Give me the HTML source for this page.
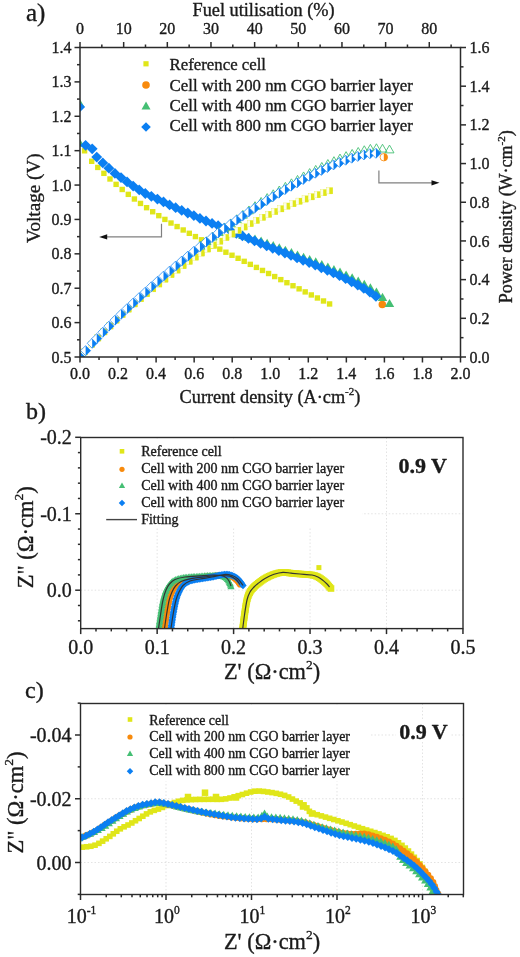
<!DOCTYPE html><html><head><meta charset="utf-8"><title>Figure</title><style>html,body{margin:0;padding:0;background:#fff}svg{display:block;filter:blur(0.35px)}</style></head><body>
<svg width="520" height="957" viewBox="0 0 520 957" font-family="'Liberation Serif', 'Times New Roman', serif" fill="#1a1a1a">
<style>text{stroke:#1a1a1a;stroke-width:0.35px;paint-order:stroke}</style>
<rect width="520" height="957" fill="#fff"/>
<clipPath id="ca"><rect x="80.0" y="47.5" width="380.5" height="309.5"/></clipPath>
<g clip-path="url(#ca)">
<rect x="81.9" y="148.1" width="5.4" height="5.4" fill="#e0e619"/><rect x="89" y="158.59" width="5.4" height="5.4" fill="#e0e619"/><rect x="95.1" y="164.73" width="5.4" height="5.4" fill="#e0e619"/><rect x="101.2" y="170.63" width="5.4" height="5.4" fill="#e0e619"/><rect x="107.3" y="176.28" width="5.4" height="5.4" fill="#e0e619"/><rect x="113.4" y="181.66" width="5.4" height="5.4" fill="#e0e619"/><rect x="119.5" y="186.78" width="5.4" height="5.4" fill="#e0e619"/><rect x="125.6" y="191.66" width="5.4" height="5.4" fill="#e0e619"/><rect x="131.7" y="196.31" width="5.4" height="5.4" fill="#e0e619"/><rect x="137.8" y="200.74" width="5.4" height="5.4" fill="#e0e619"/><rect x="143.9" y="204.98" width="5.4" height="5.4" fill="#e0e619"/><rect x="150" y="209.04" width="5.4" height="5.4" fill="#e0e619"/><rect x="156.1" y="212.95" width="5.4" height="5.4" fill="#e0e619"/><rect x="162.2" y="216.71" width="5.4" height="5.4" fill="#e0e619"/><rect x="168.3" y="220.34" width="5.4" height="5.4" fill="#e0e619"/><rect x="174.4" y="223.86" width="5.4" height="5.4" fill="#e0e619"/><rect x="180.5" y="227.28" width="5.4" height="5.4" fill="#e0e619"/><rect x="186.6" y="230.61" width="5.4" height="5.4" fill="#e0e619"/><rect x="192.7" y="233.88" width="5.4" height="5.4" fill="#e0e619"/><rect x="198.8" y="237.08" width="5.4" height="5.4" fill="#e0e619"/><rect x="204.9" y="240.24" width="5.4" height="5.4" fill="#e0e619"/><rect x="211" y="243.36" width="5.4" height="5.4" fill="#e0e619"/><rect x="217.1" y="246.44" width="5.4" height="5.4" fill="#e0e619"/><rect x="223.2" y="249.51" width="5.4" height="5.4" fill="#e0e619"/><rect x="229.3" y="252.55" width="5.4" height="5.4" fill="#e0e619"/><rect x="235.4" y="255.59" width="5.4" height="5.4" fill="#e0e619"/><rect x="241.5" y="258.63" width="5.4" height="5.4" fill="#e0e619"/><rect x="247.6" y="261.66" width="5.4" height="5.4" fill="#e0e619"/><rect x="253.7" y="264.7" width="5.4" height="5.4" fill="#e0e619"/><rect x="259.8" y="267.75" width="5.4" height="5.4" fill="#e0e619"/><rect x="265.9" y="270.8" width="5.4" height="5.4" fill="#e0e619"/><rect x="272" y="273.86" width="5.4" height="5.4" fill="#e0e619"/><rect x="278.1" y="276.92" width="5.4" height="5.4" fill="#e0e619"/><rect x="284.2" y="279.99" width="5.4" height="5.4" fill="#e0e619"/><rect x="290.3" y="283.06" width="5.4" height="5.4" fill="#e0e619"/><rect x="296.4" y="286.13" width="5.4" height="5.4" fill="#e0e619"/><rect x="302.5" y="289.2" width="5.4" height="5.4" fill="#e0e619"/><rect x="308.6" y="292.25" width="5.4" height="5.4" fill="#e0e619"/><rect x="314.7" y="295.28" width="5.4" height="5.4" fill="#e0e619"/><rect x="320.8" y="298.28" width="5.4" height="5.4" fill="#e0e619"/><rect x="326.9" y="301.26" width="5.4" height="5.4" fill="#e0e619"/>
<circle cx="382.3" cy="304.6" r="3.75" fill="#f88a0c"/>
<path d="M80 99.31L84.5 107.11L75.5 107.11Z" fill="#45bf74"/><path d="M80 139.03L84.5 146.83L75.5 146.83Z" fill="#45bf74"/><path d="M236.82 229.03L241.52 237.21L232.12 237.21Z" fill="#45bf74"/><path d="M242.89 230.93L247.59 239.1L238.19 239.1Z" fill="#45bf74"/><path d="M248.96 232.75L253.66 240.93L244.26 240.93Z" fill="#45bf74"/><path d="M255.03 234.6L259.73 242.78L250.33 242.78Z" fill="#45bf74"/><path d="M261.1 236.44L265.8 244.61L256.4 244.61Z" fill="#45bf74"/><path d="M267.17 238.77L271.87 246.95L262.47 246.95Z" fill="#45bf74"/><path d="M273.24 241.11L277.94 249.29L268.54 249.29Z" fill="#45bf74"/><path d="M279.31 243.36L284.01 251.54L274.61 251.54Z" fill="#45bf74"/><path d="M285.38 245.67L290.08 253.85L280.68 253.85Z" fill="#45bf74"/><path d="M291.45 248.06L296.15 256.24L286.75 256.24Z" fill="#45bf74"/><path d="M297.52 250.48L302.22 258.66L292.82 258.66Z" fill="#45bf74"/><path d="M303.59 252.68L308.29 260.86L298.89 260.86Z" fill="#45bf74"/><path d="M309.66 254.92L314.36 263.1L304.96 263.1Z" fill="#45bf74"/><path d="M315.73 257.34L320.43 265.52L311.03 265.52Z" fill="#45bf74"/><path d="M321.8 259.96L326.5 268.14L317.1 268.14Z" fill="#45bf74"/><path d="M327.87 262.45L332.57 270.63L323.17 270.63Z" fill="#45bf74"/><path d="M333.94 264.95L338.64 273.13L329.24 273.13Z" fill="#45bf74"/><path d="M340.01 267.57L344.71 275.75L335.31 275.75Z" fill="#45bf74"/><path d="M346.08 270.39L350.78 278.57L341.38 278.57Z" fill="#45bf74"/><path d="M352.15 273.32L356.85 281.5L347.45 281.5Z" fill="#45bf74"/><path d="M358.22 276.45L362.92 284.63L353.52 284.63Z" fill="#45bf74"/><path d="M364.29 279.7L368.99 287.88L359.59 287.88Z" fill="#45bf74"/><path d="M370.36 283.22L375.06 291.39L365.66 291.39Z" fill="#45bf74"/><path d="M376.43 287.47L381.13 295.65L371.73 295.65Z" fill="#45bf74"/><path d="M382.5 292.78L387.2 300.96L377.8 300.96Z" fill="#45bf74"/><path d="M389.5 298.91L394.2 307.09L384.8 307.09Z" fill="#45bf74"/>
<path d="M80 101.89L85.1 106.99L80 112.09L74.9 106.99Z" fill="#0b7ff2"/><path d="M85.6 139.9L91 145.3L85.6 150.7L80.2 145.3Z" fill="#0b7ff2"/><path d="M92.2 143.4L97.6 148.8L92.2 154.2L86.8 148.8Z" fill="#0b7ff2"/><path d="M96.74 151.7L102.14 157.1L96.74 162.5L91.34 157.1Z" fill="#0b7ff2"/><path d="M102.81 157.5L108.21 162.9L102.81 168.3L97.41 162.9Z" fill="#0b7ff2"/><path d="M108.88 162.8L114.28 168.2L108.88 173.6L103.48 168.2Z" fill="#0b7ff2"/><path d="M114.95 168L120.35 173.4L114.95 178.8L109.55 173.4Z" fill="#0b7ff2"/><path d="M121.02 172.19L126.42 177.59L121.02 182.99L115.62 177.59Z" fill="#0b7ff2"/><path d="M127.09 176.54L132.49 181.94L127.09 187.34L121.69 181.94Z" fill="#0b7ff2"/><path d="M133.16 180.71L138.56 186.11L133.16 191.51L127.76 186.11Z" fill="#0b7ff2"/><path d="M139.23 184.53L144.63 189.93L139.23 195.33L133.83 189.93Z" fill="#0b7ff2"/><path d="M145.3 188.1L150.7 193.5L145.3 198.9L139.9 193.5Z" fill="#0b7ff2"/><path d="M151.37 190.89L156.77 196.29L151.37 201.69L145.97 196.29Z" fill="#0b7ff2"/><path d="M157.44 193.66L162.84 199.06L157.44 204.46L152.04 199.06Z" fill="#0b7ff2"/><path d="M163.51 196.49L168.91 201.89L163.51 207.29L158.11 201.89Z" fill="#0b7ff2"/><path d="M169.58 199.51L174.98 204.91L169.58 210.31L164.18 204.91Z" fill="#0b7ff2"/><path d="M175.65 202.27L181.05 207.67L175.65 213.07L170.25 207.67Z" fill="#0b7ff2"/><path d="M181.72 205.07L187.12 210.47L181.72 215.87L176.32 210.47Z" fill="#0b7ff2"/><path d="M187.79 207.62L193.19 213.02L187.79 218.42L182.39 213.02Z" fill="#0b7ff2"/><path d="M193.86 210.2L199.26 215.6L193.86 221L188.46 215.6Z" fill="#0b7ff2"/><path d="M199.93 213.03L205.33 218.43L199.93 223.83L194.53 218.43Z" fill="#0b7ff2"/><path d="M206 215.58L211.4 220.98L206 226.38L200.6 220.98Z" fill="#0b7ff2"/><path d="M212.07 218L217.47 223.4L212.07 228.8L206.67 223.4Z" fill="#0b7ff2"/><path d="M218.14 220.3L223.54 225.7L218.14 231.1L212.74 225.7Z" fill="#0b7ff2"/><path d="M224.21 222.63L229.61 228.03L224.21 233.43L218.81 228.03Z" fill="#0b7ff2"/><path d="M230.28 225.15L235.68 230.55L230.28 235.95L224.88 230.55Z" fill="#0b7ff2"/><path d="M236.35 227.92L241.75 233.32L236.35 238.72L230.95 233.32Z" fill="#0b7ff2"/><path d="M242.42 230.49L247.82 235.89L242.42 241.29L237.02 235.89Z" fill="#0b7ff2"/><path d="M248.49 232.99L253.89 238.39L248.49 243.79L243.09 238.39Z" fill="#0b7ff2"/><path d="M254.56 235.52L259.96 240.92L254.56 246.32L249.16 240.92Z" fill="#0b7ff2"/><path d="M260.63 238.02L266.03 243.42L260.63 248.82L255.23 243.42Z" fill="#0b7ff2"/><path d="M266.7 240.52L272.1 245.92L266.7 251.32L261.3 245.92Z" fill="#0b7ff2"/><path d="M272.77 242.92L278.17 248.32L272.77 253.72L267.37 248.32Z" fill="#0b7ff2"/><path d="M278.84 245.23L284.24 250.63L278.84 256.03L273.44 250.63Z" fill="#0b7ff2"/><path d="M284.91 247.61L290.31 253.01L284.91 258.41L279.51 253.01Z" fill="#0b7ff2"/><path d="M290.98 250.07L296.38 255.47L290.98 260.87L285.58 255.47Z" fill="#0b7ff2"/><path d="M297.05 252.56L302.45 257.96L297.05 263.36L291.65 257.96Z" fill="#0b7ff2"/><path d="M303.12 254.84L308.52 260.24L303.12 265.64L297.72 260.24Z" fill="#0b7ff2"/><path d="M309.19 257.16L314.59 262.56L309.19 267.96L303.79 262.56Z" fill="#0b7ff2"/><path d="M315.26 259.66L320.66 265.06L315.26 270.46L309.86 265.06Z" fill="#0b7ff2"/><path d="M321.33 262.35L326.73 267.75L321.33 273.15L315.93 267.75Z" fill="#0b7ff2"/><path d="M327.4 264.92L332.8 270.32L327.4 275.72L322 270.32Z" fill="#0b7ff2"/><path d="M333.47 267.53L338.87 272.93L333.47 278.33L328.07 272.93Z" fill="#0b7ff2"/><path d="M339.54 270.29L344.94 275.69L339.54 281.09L334.14 275.69Z" fill="#0b7ff2"/><path d="M345.61 273.25L351.01 278.65L345.61 284.05L340.21 278.65Z" fill="#0b7ff2"/><path d="M351.68 276.33L357.08 281.73L351.68 287.13L346.28 281.73Z" fill="#0b7ff2"/><path d="M357.75 279.6L363.15 285L357.75 290.4L352.35 285Z" fill="#0b7ff2"/><path d="M363.82 282.99L369.22 288.39L363.82 293.79L358.42 288.39Z" fill="#0b7ff2"/><path d="M369.89 286.66L375.29 292.06L369.89 297.46L364.49 292.06Z" fill="#0b7ff2"/><path d="M375.96 291.07L381.36 296.47L375.96 301.87L370.56 296.47Z" fill="#0b7ff2"/>
<rect x="76.8" y="353.8" width="6.4" height="6.4" fill="#fcfdeb" stroke="#e0e619" stroke-width="0.25"/><rect x="79.7" y="353.8" width="3.5" height="6.4" fill="#e0e619"/><rect x="81.4" y="348.65" width="6.4" height="6.4" fill="#fcfdeb" stroke="#e0e619" stroke-width="0.25"/><rect x="84.3" y="348.65" width="3.5" height="6.4" fill="#e0e619"/><rect x="88.5" y="341.07" width="6.4" height="6.4" fill="#fcfdeb" stroke="#e0e619" stroke-width="0.25"/><rect x="91.4" y="341.07" width="3.5" height="6.4" fill="#e0e619"/><rect x="94.6" y="334.75" width="6.4" height="6.4" fill="#fcfdeb" stroke="#e0e619" stroke-width="0.25"/><rect x="97.5" y="334.75" width="3.5" height="6.4" fill="#e0e619"/><rect x="100.7" y="328.64" width="6.4" height="6.4" fill="#fcfdeb" stroke="#e0e619" stroke-width="0.25"/><rect x="103.6" y="328.64" width="3.5" height="6.4" fill="#e0e619"/><rect x="106.8" y="322.72" width="6.4" height="6.4" fill="#fcfdeb" stroke="#e0e619" stroke-width="0.25"/><rect x="109.7" y="322.72" width="3.5" height="6.4" fill="#e0e619"/><rect x="112.9" y="316.97" width="6.4" height="6.4" fill="#fcfdeb" stroke="#e0e619" stroke-width="0.25"/><rect x="115.8" y="316.97" width="3.5" height="6.4" fill="#e0e619"/><rect x="119" y="311.39" width="6.4" height="6.4" fill="#fcfdeb" stroke="#e0e619" stroke-width="0.25"/><rect x="121.9" y="311.39" width="3.5" height="6.4" fill="#e0e619"/><rect x="125.1" y="305.96" width="6.4" height="6.4" fill="#fcfdeb" stroke="#e0e619" stroke-width="0.25"/><rect x="128" y="305.96" width="3.5" height="6.4" fill="#e0e619"/><rect x="131.2" y="300.66" width="6.4" height="6.4" fill="#fcfdeb" stroke="#e0e619" stroke-width="0.25"/><rect x="134.1" y="300.66" width="3.5" height="6.4" fill="#e0e619"/><rect x="137.3" y="295.5" width="6.4" height="6.4" fill="#fcfdeb" stroke="#e0e619" stroke-width="0.25"/><rect x="140.2" y="295.5" width="3.5" height="6.4" fill="#e0e619"/><rect x="143.4" y="290.46" width="6.4" height="6.4" fill="#fcfdeb" stroke="#e0e619" stroke-width="0.25"/><rect x="146.3" y="290.46" width="3.5" height="6.4" fill="#e0e619"/><rect x="149.5" y="285.53" width="6.4" height="6.4" fill="#fcfdeb" stroke="#e0e619" stroke-width="0.25"/><rect x="152.4" y="285.53" width="3.5" height="6.4" fill="#e0e619"/><rect x="155.6" y="280.71" width="6.4" height="6.4" fill="#fcfdeb" stroke="#e0e619" stroke-width="0.25"/><rect x="158.5" y="280.71" width="3.5" height="6.4" fill="#e0e619"/><rect x="161.7" y="276" width="6.4" height="6.4" fill="#fcfdeb" stroke="#e0e619" stroke-width="0.25"/><rect x="164.6" y="276" width="3.5" height="6.4" fill="#e0e619"/><rect x="167.8" y="271.39" width="6.4" height="6.4" fill="#fcfdeb" stroke="#e0e619" stroke-width="0.25"/><rect x="170.7" y="271.39" width="3.5" height="6.4" fill="#e0e619"/><rect x="173.9" y="266.87" width="6.4" height="6.4" fill="#fcfdeb" stroke="#e0e619" stroke-width="0.25"/><rect x="176.8" y="266.87" width="3.5" height="6.4" fill="#e0e619"/><rect x="180" y="262.46" width="6.4" height="6.4" fill="#fcfdeb" stroke="#e0e619" stroke-width="0.25"/><rect x="182.9" y="262.46" width="3.5" height="6.4" fill="#e0e619"/><rect x="186.1" y="258.14" width="6.4" height="6.4" fill="#fcfdeb" stroke="#e0e619" stroke-width="0.25"/><rect x="189" y="258.14" width="3.5" height="6.4" fill="#e0e619"/><rect x="192.2" y="253.92" width="6.4" height="6.4" fill="#fcfdeb" stroke="#e0e619" stroke-width="0.25"/><rect x="195.1" y="253.92" width="3.5" height="6.4" fill="#e0e619"/><rect x="198.3" y="249.79" width="6.4" height="6.4" fill="#fcfdeb" stroke="#e0e619" stroke-width="0.25"/><rect x="201.2" y="249.79" width="3.5" height="6.4" fill="#e0e619"/><rect x="204.4" y="245.76" width="6.4" height="6.4" fill="#fcfdeb" stroke="#e0e619" stroke-width="0.25"/><rect x="207.3" y="245.76" width="3.5" height="6.4" fill="#e0e619"/><rect x="210.5" y="241.83" width="6.4" height="6.4" fill="#fcfdeb" stroke="#e0e619" stroke-width="0.25"/><rect x="213.4" y="241.83" width="3.5" height="6.4" fill="#e0e619"/><rect x="216.6" y="238" width="6.4" height="6.4" fill="#fcfdeb" stroke="#e0e619" stroke-width="0.25"/><rect x="219.5" y="238" width="3.5" height="6.4" fill="#e0e619"/><rect x="222.7" y="234.27" width="6.4" height="6.4" fill="#fcfdeb" stroke="#e0e619" stroke-width="0.25"/><rect x="225.6" y="234.27" width="3.5" height="6.4" fill="#e0e619"/><rect x="228.8" y="230.64" width="6.4" height="6.4" fill="#fcfdeb" stroke="#e0e619" stroke-width="0.25"/><rect x="231.7" y="230.64" width="3.5" height="6.4" fill="#e0e619"/><rect x="234.9" y="227.12" width="6.4" height="6.4" fill="#fcfdeb" stroke="#e0e619" stroke-width="0.25"/><rect x="237.8" y="227.12" width="3.5" height="6.4" fill="#e0e619"/><rect x="241" y="223.71" width="6.4" height="6.4" fill="#fcfdeb" stroke="#e0e619" stroke-width="0.25"/><rect x="243.9" y="223.71" width="3.5" height="6.4" fill="#e0e619"/><rect x="247.1" y="220.4" width="6.4" height="6.4" fill="#fcfdeb" stroke="#e0e619" stroke-width="0.25"/><rect x="250" y="220.4" width="3.5" height="6.4" fill="#e0e619"/><rect x="253.2" y="217.21" width="6.4" height="6.4" fill="#fcfdeb" stroke="#e0e619" stroke-width="0.25"/><rect x="256.1" y="217.21" width="3.5" height="6.4" fill="#e0e619"/><rect x="259.3" y="214.14" width="6.4" height="6.4" fill="#fcfdeb" stroke="#e0e619" stroke-width="0.25"/><rect x="262.2" y="214.14" width="3.5" height="6.4" fill="#e0e619"/><rect x="265.4" y="211.17" width="6.4" height="6.4" fill="#fcfdeb" stroke="#e0e619" stroke-width="0.25"/><rect x="268.3" y="211.17" width="3.5" height="6.4" fill="#e0e619"/><rect x="271.5" y="208.32" width="6.4" height="6.4" fill="#fcfdeb" stroke="#e0e619" stroke-width="0.25"/><rect x="274.4" y="208.32" width="3.5" height="6.4" fill="#e0e619"/><rect x="277.6" y="205.58" width="6.4" height="6.4" fill="#fcfdeb" stroke="#e0e619" stroke-width="0.25"/><rect x="280.5" y="205.58" width="3.5" height="6.4" fill="#e0e619"/><rect x="283.7" y="202.96" width="6.4" height="6.4" fill="#fcfdeb" stroke="#e0e619" stroke-width="0.25"/><rect x="286.6" y="202.96" width="3.5" height="6.4" fill="#e0e619"/><rect x="289.8" y="200.45" width="6.4" height="6.4" fill="#fcfdeb" stroke="#e0e619" stroke-width="0.25"/><rect x="292.7" y="200.45" width="3.5" height="6.4" fill="#e0e619"/><rect x="295.9" y="198.05" width="6.4" height="6.4" fill="#fcfdeb" stroke="#e0e619" stroke-width="0.25"/><rect x="298.8" y="198.05" width="3.5" height="6.4" fill="#e0e619"/><rect x="302" y="195.76" width="6.4" height="6.4" fill="#fcfdeb" stroke="#e0e619" stroke-width="0.25"/><rect x="304.9" y="195.76" width="3.5" height="6.4" fill="#e0e619"/><rect x="308.1" y="193.57" width="6.4" height="6.4" fill="#fcfdeb" stroke="#e0e619" stroke-width="0.25"/><rect x="311" y="193.57" width="3.5" height="6.4" fill="#e0e619"/><rect x="314.2" y="191.47" width="6.4" height="6.4" fill="#fcfdeb" stroke="#e0e619" stroke-width="0.25"/><rect x="317.1" y="191.47" width="3.5" height="6.4" fill="#e0e619"/><rect x="320.3" y="189.47" width="6.4" height="6.4" fill="#fcfdeb" stroke="#e0e619" stroke-width="0.25"/><rect x="323.2" y="189.47" width="3.5" height="6.4" fill="#e0e619"/><rect x="326.4" y="187.55" width="6.4" height="6.4" fill="#fcfdeb" stroke="#e0e619" stroke-width="0.25"/><rect x="329.3" y="187.55" width="3.5" height="6.4" fill="#e0e619"/>
<circle cx="383.8" cy="157.2" r="3.75" fill="none" stroke="#f88a0c" stroke-width="0.8"/><path d="M383.8 153.45A3.75 3.75 0 0 1 383.8 160.95Z" fill="#f88a0c"/>
<path d="M200.4 241.42L204.9 249.22L195.9 249.22Z" fill="none" stroke="#45bf74" stroke-width="0.9"/><path d="M206.47 236.79L210.97 244.59L201.97 244.59Z" fill="none" stroke="#45bf74" stroke-width="0.9"/><path d="M212.54 232.21L217.04 240.01L208.04 240.01Z" fill="none" stroke="#45bf74" stroke-width="0.9"/><path d="M218.61 227.66L223.11 235.46L214.11 235.46Z" fill="none" stroke="#45bf74" stroke-width="0.9"/><path d="M224.68 223.21L229.18 231.01L220.18 231.01Z" fill="none" stroke="#45bf74" stroke-width="0.9"/><path d="M230.75 218.93L235.25 226.73L226.25 226.73Z" fill="none" stroke="#45bf74" stroke-width="0.9"/><path d="M236.82 214.76L241.32 222.56L232.32 222.56Z" fill="none" stroke="#45bf74" stroke-width="0.9"/><path d="M242.89 210.35L247.39 218.15L238.39 218.15Z" fill="none" stroke="#45bf74" stroke-width="0.9"/><path d="M248.96 205.98L253.46 213.78L244.46 213.78Z" fill="none" stroke="#45bf74" stroke-width="0.9"/><path d="M255.03 201.7L259.53 209.5L250.53 209.5Z" fill="none" stroke="#45bf74" stroke-width="0.9"/><path d="M261.1 197.46L265.6 205.26L256.6 205.26Z" fill="none" stroke="#45bf74" stroke-width="0.9"/><path d="M267.17 193.58L271.67 201.38L262.67 201.38Z" fill="none" stroke="#45bf74" stroke-width="0.9"/><path d="M273.24 189.77L277.74 197.57L268.74 197.57Z" fill="none" stroke="#45bf74" stroke-width="0.9"/><path d="M279.31 186L283.81 193.8L274.81 193.8Z" fill="none" stroke="#45bf74" stroke-width="0.9"/><path d="M285.38 182.35L289.88 190.15L280.88 190.15Z" fill="none" stroke="#45bf74" stroke-width="0.9"/><path d="M291.45 178.83L295.95 186.63L286.95 186.63Z" fill="none" stroke="#45bf74" stroke-width="0.9"/><path d="M297.52 175.41L302.02 183.21L293.02 183.21Z" fill="none" stroke="#45bf74" stroke-width="0.9"/><path d="M303.59 171.94L308.09 179.74L299.09 179.74Z" fill="none" stroke="#45bf74" stroke-width="0.9"/><path d="M309.66 168.57L314.16 176.37L305.16 176.37Z" fill="none" stroke="#45bf74" stroke-width="0.9"/><path d="M315.73 165.41L320.23 173.21L311.23 173.21Z" fill="none" stroke="#45bf74" stroke-width="0.9"/><path d="M321.8 162.48L326.3 170.28L317.3 170.28Z" fill="none" stroke="#45bf74" stroke-width="0.9"/><path d="M327.87 159.54L332.37 167.34L323.37 167.34Z" fill="none" stroke="#45bf74" stroke-width="0.9"/><path d="M333.94 156.7L338.44 164.5L329.44 164.5Z" fill="none" stroke="#45bf74" stroke-width="0.9"/><path d="M340.01 154.05L344.51 161.85L335.51 161.85Z" fill="none" stroke="#45bf74" stroke-width="0.9"/><path d="M346.08 151.65L350.58 159.45L341.58 159.45Z" fill="none" stroke="#45bf74" stroke-width="0.9"/><path d="M352.15 149.44L356.65 157.24L347.65 157.24Z" fill="none" stroke="#45bf74" stroke-width="0.9"/><path d="M358.22 147.49L362.72 155.29L353.72 155.29Z" fill="none" stroke="#45bf74" stroke-width="0.9"/><path d="M364.29 145.76L368.79 153.56L359.79 153.56Z" fill="none" stroke="#45bf74" stroke-width="0.9"/><path d="M370.36 144.38L374.86 152.18L365.86 152.18Z" fill="none" stroke="#45bf74" stroke-width="0.9"/><path d="M376.43 143.77L380.93 151.57L371.93 151.57Z" fill="none" stroke="#45bf74" stroke-width="0.9"/><path d="M382.5 144.26L387 152.06L378 152.06Z" fill="none" stroke="#45bf74" stroke-width="0.9"/><path d="M389.5 145.07L394 152.87L385 152.87Z" fill="none" stroke="#45bf74" stroke-width="0.9"/>
<path d="M80 352L85 357L80 362L75 357Z" fill="#fff" stroke="#0b7ff2" stroke-width="0.7"/><path d="M80 352L85 357L80 362Z" fill="#0b7ff2"/><path d="M85.6 345.64L90.6 350.64L85.6 355.64L80.6 350.64Z" fill="#fff" stroke="#0b7ff2" stroke-width="0.7"/><path d="M85.6 345.64L90.6 350.64L85.6 355.64Z" fill="#0b7ff2"/><path d="M92.2 338.27L97.2 343.27L92.2 348.27L87.2 343.27Z" fill="#fff" stroke="#0b7ff2" stroke-width="0.7"/><path d="M92.2 338.27L97.2 343.27L92.2 348.27Z" fill="#0b7ff2"/><path d="M96.74 333.57L101.74 338.57L96.74 343.57L91.74 338.57Z" fill="#fff" stroke="#0b7ff2" stroke-width="0.7"/><path d="M96.74 333.57L101.74 338.57L96.74 343.57Z" fill="#0b7ff2"/><path d="M102.81 327.28L107.81 332.28L102.81 337.28L97.81 332.28Z" fill="#fff" stroke="#0b7ff2" stroke-width="0.7"/><path d="M102.81 327.28L107.81 332.28L102.81 337.28Z" fill="#0b7ff2"/><path d="M108.88 321.16L113.88 326.16L108.88 331.16L103.88 326.16Z" fill="#fff" stroke="#0b7ff2" stroke-width="0.7"/><path d="M108.88 321.16L113.88 326.16L108.88 331.16Z" fill="#0b7ff2"/><path d="M114.95 315.21L119.95 320.21L114.95 325.21L109.95 320.21Z" fill="#fff" stroke="#0b7ff2" stroke-width="0.7"/><path d="M114.95 315.21L119.95 320.21L114.95 325.21Z" fill="#0b7ff2"/><path d="M121.02 309.33L126.02 314.33L121.02 319.33L116.02 314.33Z" fill="#fff" stroke="#0b7ff2" stroke-width="0.7"/><path d="M121.02 309.33L126.02 314.33L121.02 319.33Z" fill="#0b7ff2"/><path d="M127.09 303.62L132.09 308.62L127.09 313.62L122.09 308.62Z" fill="#fff" stroke="#0b7ff2" stroke-width="0.7"/><path d="M127.09 303.62L132.09 308.62L127.09 313.62Z" fill="#0b7ff2"/><path d="M133.16 298.04L138.16 303.04L133.16 308.04L128.16 303.04Z" fill="#fff" stroke="#0b7ff2" stroke-width="0.7"/><path d="M133.16 298.04L138.16 303.04L133.16 308.04Z" fill="#0b7ff2"/><path d="M139.23 292.55L144.23 297.55L139.23 302.55L134.23 297.55Z" fill="#fff" stroke="#0b7ff2" stroke-width="0.7"/><path d="M139.23 292.55L144.23 297.55L139.23 302.55Z" fill="#0b7ff2"/><path d="M145.3 287.15L150.3 292.15L145.3 297.15L140.3 292.15Z" fill="#fff" stroke="#0b7ff2" stroke-width="0.7"/><path d="M145.3 287.15L150.3 292.15L145.3 297.15Z" fill="#0b7ff2"/><path d="M151.37 281.71L156.37 286.71L151.37 291.71L146.37 286.71Z" fill="#fff" stroke="#0b7ff2" stroke-width="0.7"/><path d="M151.37 281.71L156.37 286.71L151.37 291.71Z" fill="#0b7ff2"/><path d="M157.44 276.37L162.44 281.37L157.44 286.37L152.44 281.37Z" fill="#fff" stroke="#0b7ff2" stroke-width="0.7"/><path d="M157.44 276.37L162.44 281.37L157.44 286.37Z" fill="#0b7ff2"/><path d="M163.51 271.14L168.51 276.14L163.51 281.14L158.51 276.14Z" fill="#fff" stroke="#0b7ff2" stroke-width="0.7"/><path d="M163.51 271.14L168.51 276.14L163.51 281.14Z" fill="#0b7ff2"/><path d="M169.58 266.07L174.58 271.07L169.58 276.07L164.58 271.07Z" fill="#fff" stroke="#0b7ff2" stroke-width="0.7"/><path d="M169.58 266.07L174.58 271.07L169.58 276.07Z" fill="#0b7ff2"/><path d="M175.65 261.02L180.65 266.02L175.65 271.02L170.65 266.02Z" fill="#fff" stroke="#0b7ff2" stroke-width="0.7"/><path d="M175.65 261.02L180.65 266.02L175.65 271.02Z" fill="#0b7ff2"/><path d="M181.72 256.09L186.72 261.09L181.72 266.09L176.72 261.09Z" fill="#fff" stroke="#0b7ff2" stroke-width="0.7"/><path d="M181.72 256.09L186.72 261.09L181.72 266.09Z" fill="#0b7ff2"/><path d="M187.79 251.18L192.79 256.18L187.79 261.18L182.79 256.18Z" fill="#fff" stroke="#0b7ff2" stroke-width="0.7"/><path d="M187.79 251.18L192.79 256.18L187.79 261.18Z" fill="#0b7ff2"/><path d="M193.86 246.37L198.86 251.37L193.86 256.37L188.86 251.37Z" fill="#fff" stroke="#0b7ff2" stroke-width="0.7"/><path d="M193.86 246.37L198.86 251.37L193.86 256.37Z" fill="#0b7ff2"/><path d="M199.93 241.75L204.93 246.75L199.93 251.75L194.93 246.75Z" fill="#fff" stroke="#0b7ff2" stroke-width="0.7"/><path d="M199.93 241.75L204.93 246.75L199.93 251.75Z" fill="#0b7ff2"/><path d="M206 237.12L211 242.12L206 247.12L201 242.12Z" fill="#fff" stroke="#0b7ff2" stroke-width="0.7"/><path d="M206 237.12L211 242.12L206 247.12Z" fill="#0b7ff2"/><path d="M212.07 232.53L217.07 237.53L212.07 242.53L207.07 237.53Z" fill="#fff" stroke="#0b7ff2" stroke-width="0.7"/><path d="M212.07 232.53L217.07 237.53L212.07 242.53Z" fill="#0b7ff2"/><path d="M218.14 227.98L223.14 232.98L218.14 237.98L213.14 232.98Z" fill="#fff" stroke="#0b7ff2" stroke-width="0.7"/><path d="M218.14 227.98L223.14 232.98L218.14 237.98Z" fill="#0b7ff2"/><path d="M224.21 223.53L229.21 228.53L224.21 233.53L219.21 228.53Z" fill="#fff" stroke="#0b7ff2" stroke-width="0.7"/><path d="M224.21 223.53L229.21 228.53L224.21 233.53Z" fill="#0b7ff2"/><path d="M230.28 219.24L235.28 224.24L230.28 229.24L225.28 224.24Z" fill="#fff" stroke="#0b7ff2" stroke-width="0.7"/><path d="M230.28 219.24L235.28 224.24L230.28 229.24Z" fill="#0b7ff2"/><path d="M236.35 215.16L241.35 220.16L236.35 225.16L231.35 220.16Z" fill="#fff" stroke="#0b7ff2" stroke-width="0.7"/><path d="M236.35 215.16L241.35 220.16L236.35 225.16Z" fill="#0b7ff2"/><path d="M242.42 211.09L247.42 216.09L242.42 221.09L237.42 216.09Z" fill="#fff" stroke="#0b7ff2" stroke-width="0.7"/><path d="M242.42 211.09L247.42 216.09L242.42 221.09Z" fill="#0b7ff2"/><path d="M248.49 207.06L253.49 212.06L248.49 217.06L243.49 212.06Z" fill="#fff" stroke="#0b7ff2" stroke-width="0.7"/><path d="M248.49 207.06L253.49 212.06L248.49 217.06Z" fill="#0b7ff2"/><path d="M254.56 203.15L259.56 208.15L254.56 213.15L249.56 208.15Z" fill="#fff" stroke="#0b7ff2" stroke-width="0.7"/><path d="M254.56 203.15L259.56 208.15L254.56 213.15Z" fill="#0b7ff2"/><path d="M260.63 199.32L265.63 204.32L260.63 209.32L255.63 204.32Z" fill="#fff" stroke="#0b7ff2" stroke-width="0.7"/><path d="M260.63 199.32L265.63 204.32L260.63 209.32Z" fill="#0b7ff2"/><path d="M266.7 195.56L271.7 200.56L266.7 205.56L261.7 200.56Z" fill="#fff" stroke="#0b7ff2" stroke-width="0.7"/><path d="M266.7 195.56L271.7 200.56L266.7 205.56Z" fill="#0b7ff2"/><path d="M272.77 191.85L277.77 196.85L272.77 201.85L267.77 196.85Z" fill="#fff" stroke="#0b7ff2" stroke-width="0.7"/><path d="M272.77 191.85L277.77 196.85L272.77 201.85Z" fill="#0b7ff2"/><path d="M278.84 188.17L283.84 193.17L278.84 198.17L273.84 193.17Z" fill="#fff" stroke="#0b7ff2" stroke-width="0.7"/><path d="M278.84 188.17L283.84 193.17L278.84 198.17Z" fill="#0b7ff2"/><path d="M284.91 184.61L289.91 189.61L284.91 194.61L279.91 189.61Z" fill="#fff" stroke="#0b7ff2" stroke-width="0.7"/><path d="M284.91 184.61L289.91 189.61L284.91 194.61Z" fill="#0b7ff2"/><path d="M290.98 181.19L295.98 186.19L290.98 191.19L285.98 186.19Z" fill="#fff" stroke="#0b7ff2" stroke-width="0.7"/><path d="M290.98 181.19L295.98 186.19L290.98 191.19Z" fill="#0b7ff2"/><path d="M297.05 177.87L302.05 182.87L297.05 187.87L292.05 182.87Z" fill="#fff" stroke="#0b7ff2" stroke-width="0.7"/><path d="M297.05 177.87L302.05 182.87L297.05 187.87Z" fill="#0b7ff2"/><path d="M303.12 174.51L308.12 179.51L303.12 184.51L298.12 179.51Z" fill="#fff" stroke="#0b7ff2" stroke-width="0.7"/><path d="M303.12 174.51L308.12 179.51L303.12 184.51Z" fill="#0b7ff2"/><path d="M309.19 171.25L314.19 176.25L309.19 181.25L304.19 176.25Z" fill="#fff" stroke="#0b7ff2" stroke-width="0.7"/><path d="M309.19 171.25L314.19 176.25L309.19 181.25Z" fill="#0b7ff2"/><path d="M315.26 168.2L320.26 173.2L315.26 178.2L310.26 173.2Z" fill="#fff" stroke="#0b7ff2" stroke-width="0.7"/><path d="M315.26 168.2L320.26 173.2L315.26 178.2Z" fill="#0b7ff2"/><path d="M321.33 165.39L326.33 170.39L321.33 175.39L316.33 170.39Z" fill="#fff" stroke="#0b7ff2" stroke-width="0.7"/><path d="M321.33 165.39L326.33 170.39L321.33 175.39Z" fill="#0b7ff2"/><path d="M327.4 162.57L332.4 167.57L327.4 172.57L322.4 167.57Z" fill="#fff" stroke="#0b7ff2" stroke-width="0.7"/><path d="M327.4 162.57L332.4 167.57L327.4 172.57Z" fill="#0b7ff2"/><path d="M333.47 159.89L338.47 164.89L333.47 169.89L328.47 164.89Z" fill="#fff" stroke="#0b7ff2" stroke-width="0.7"/><path d="M333.47 159.89L338.47 164.89L333.47 169.89Z" fill="#0b7ff2"/><path d="M339.54 157.41L344.54 162.41L339.54 167.41L334.54 162.41Z" fill="#fff" stroke="#0b7ff2" stroke-width="0.7"/><path d="M339.54 157.41L344.54 162.41L339.54 167.41Z" fill="#0b7ff2"/><path d="M345.61 155.19L350.61 160.19L345.61 165.19L340.61 160.19Z" fill="#fff" stroke="#0b7ff2" stroke-width="0.7"/><path d="M345.61 155.19L350.61 160.19L345.61 165.19Z" fill="#0b7ff2"/><path d="M351.68 153.16L356.68 158.16L351.68 163.16L346.68 158.16Z" fill="#fff" stroke="#0b7ff2" stroke-width="0.7"/><path d="M351.68 153.16L356.68 158.16L351.68 163.16Z" fill="#0b7ff2"/><path d="M357.75 151.4L362.75 156.4L357.75 161.4L352.75 156.4Z" fill="#fff" stroke="#0b7ff2" stroke-width="0.7"/><path d="M357.75 151.4L362.75 156.4L357.75 161.4Z" fill="#0b7ff2"/><path d="M363.82 149.88L368.82 154.88L363.82 159.88L358.82 154.88Z" fill="#fff" stroke="#0b7ff2" stroke-width="0.7"/><path d="M363.82 149.88L368.82 154.88L363.82 159.88Z" fill="#0b7ff2"/><path d="M369.89 148.7L374.89 153.7L369.89 158.7L364.89 153.7Z" fill="#fff" stroke="#0b7ff2" stroke-width="0.7"/><path d="M369.89 148.7L374.89 153.7L369.89 158.7Z" fill="#0b7ff2"/><path d="M375.96 148.3L380.96 153.3L375.96 158.3L370.96 153.3Z" fill="#fff" stroke="#0b7ff2" stroke-width="0.7"/><path d="M375.96 148.3L380.96 153.3L375.96 158.3Z" fill="#0b7ff2"/>
</g>
<rect x="80.0" y="47.5" width="380.5" height="309.5" fill="none" stroke="#2b2b2b" stroke-width="1.5"/>
<line x1="74.5" y1="357" x2="80" y2="357" stroke="#2b2b2b" stroke-width="1.5"/>
<text x="71.5" y="362.6" font-size="16" text-anchor="end">0.5</text>
<line x1="77" y1="339.81" x2="80" y2="339.81" stroke="#2b2b2b" stroke-width="1.5"/>
<line x1="74.5" y1="322.61" x2="80" y2="322.61" stroke="#2b2b2b" stroke-width="1.5"/>
<text x="71.5" y="328.21" font-size="16" text-anchor="end">0.6</text>
<line x1="77" y1="305.42" x2="80" y2="305.42" stroke="#2b2b2b" stroke-width="1.5"/>
<line x1="74.5" y1="288.22" x2="80" y2="288.22" stroke="#2b2b2b" stroke-width="1.5"/>
<text x="71.5" y="293.82" font-size="16" text-anchor="end">0.7</text>
<line x1="77" y1="271.03" x2="80" y2="271.03" stroke="#2b2b2b" stroke-width="1.5"/>
<line x1="74.5" y1="253.83" x2="80" y2="253.83" stroke="#2b2b2b" stroke-width="1.5"/>
<text x="71.5" y="259.43" font-size="16" text-anchor="end">0.8</text>
<line x1="77" y1="236.64" x2="80" y2="236.64" stroke="#2b2b2b" stroke-width="1.5"/>
<line x1="74.5" y1="219.44" x2="80" y2="219.44" stroke="#2b2b2b" stroke-width="1.5"/>
<text x="71.5" y="225.04" font-size="16" text-anchor="end">0.9</text>
<line x1="77" y1="202.25" x2="80" y2="202.25" stroke="#2b2b2b" stroke-width="1.5"/>
<line x1="74.5" y1="185.06" x2="80" y2="185.06" stroke="#2b2b2b" stroke-width="1.5"/>
<text x="71.5" y="190.66" font-size="16" text-anchor="end">1.0</text>
<line x1="77" y1="167.86" x2="80" y2="167.86" stroke="#2b2b2b" stroke-width="1.5"/>
<line x1="74.5" y1="150.67" x2="80" y2="150.67" stroke="#2b2b2b" stroke-width="1.5"/>
<text x="71.5" y="156.27" font-size="16" text-anchor="end">1.1</text>
<line x1="77" y1="133.47" x2="80" y2="133.47" stroke="#2b2b2b" stroke-width="1.5"/>
<line x1="74.5" y1="116.28" x2="80" y2="116.28" stroke="#2b2b2b" stroke-width="1.5"/>
<text x="71.5" y="121.88" font-size="16" text-anchor="end">1.2</text>
<line x1="77" y1="99.08" x2="80" y2="99.08" stroke="#2b2b2b" stroke-width="1.5"/>
<line x1="74.5" y1="81.89" x2="80" y2="81.89" stroke="#2b2b2b" stroke-width="1.5"/>
<text x="71.5" y="87.49" font-size="16" text-anchor="end">1.3</text>
<line x1="77" y1="64.69" x2="80" y2="64.69" stroke="#2b2b2b" stroke-width="1.5"/>
<line x1="74.5" y1="47.5" x2="80" y2="47.5" stroke="#2b2b2b" stroke-width="1.5"/>
<text x="71.5" y="53.1" font-size="16" text-anchor="end">1.4</text>
<line x1="460.5" y1="357" x2="466" y2="357" stroke="#2b2b2b" stroke-width="1.5"/>
<text x="469.5" y="362.6" font-size="16" text-anchor="start">0.0</text>
<line x1="460.5" y1="337.66" x2="463.5" y2="337.66" stroke="#2b2b2b" stroke-width="1.5"/>
<line x1="460.5" y1="318.31" x2="466" y2="318.31" stroke="#2b2b2b" stroke-width="1.5"/>
<text x="469.5" y="323.91" font-size="16" text-anchor="start">0.2</text>
<line x1="460.5" y1="298.97" x2="463.5" y2="298.97" stroke="#2b2b2b" stroke-width="1.5"/>
<line x1="460.5" y1="279.62" x2="466" y2="279.62" stroke="#2b2b2b" stroke-width="1.5"/>
<text x="469.5" y="285.23" font-size="16" text-anchor="start">0.4</text>
<line x1="460.5" y1="260.28" x2="463.5" y2="260.28" stroke="#2b2b2b" stroke-width="1.5"/>
<line x1="460.5" y1="240.94" x2="466" y2="240.94" stroke="#2b2b2b" stroke-width="1.5"/>
<text x="469.5" y="246.54" font-size="16" text-anchor="start">0.6</text>
<line x1="460.5" y1="221.59" x2="463.5" y2="221.59" stroke="#2b2b2b" stroke-width="1.5"/>
<line x1="460.5" y1="202.25" x2="466" y2="202.25" stroke="#2b2b2b" stroke-width="1.5"/>
<text x="469.5" y="207.85" font-size="16" text-anchor="start">0.8</text>
<line x1="460.5" y1="182.91" x2="463.5" y2="182.91" stroke="#2b2b2b" stroke-width="1.5"/>
<line x1="460.5" y1="163.56" x2="466" y2="163.56" stroke="#2b2b2b" stroke-width="1.5"/>
<text x="469.5" y="169.16" font-size="16" text-anchor="start">1.0</text>
<line x1="460.5" y1="144.22" x2="463.5" y2="144.22" stroke="#2b2b2b" stroke-width="1.5"/>
<line x1="460.5" y1="124.88" x2="466" y2="124.88" stroke="#2b2b2b" stroke-width="1.5"/>
<text x="469.5" y="130.47" font-size="16" text-anchor="start">1.2</text>
<line x1="460.5" y1="105.53" x2="463.5" y2="105.53" stroke="#2b2b2b" stroke-width="1.5"/>
<line x1="460.5" y1="86.19" x2="466" y2="86.19" stroke="#2b2b2b" stroke-width="1.5"/>
<text x="469.5" y="91.79" font-size="16" text-anchor="start">1.4</text>
<line x1="460.5" y1="66.84" x2="463.5" y2="66.84" stroke="#2b2b2b" stroke-width="1.5"/>
<line x1="460.5" y1="47.5" x2="466" y2="47.5" stroke="#2b2b2b" stroke-width="1.5"/>
<text x="469.5" y="53.1" font-size="16" text-anchor="start">1.6</text>
<line x1="80" y1="357" x2="80" y2="362.5" stroke="#2b2b2b" stroke-width="1.5"/>
<text x="80" y="379.2" font-size="16" text-anchor="middle">0.0</text>
<line x1="99.03" y1="357" x2="99.03" y2="360" stroke="#2b2b2b" stroke-width="1.5"/>
<line x1="118.05" y1="357" x2="118.05" y2="362.5" stroke="#2b2b2b" stroke-width="1.5"/>
<text x="118.05" y="379.2" font-size="16" text-anchor="middle">0.2</text>
<line x1="137.08" y1="357" x2="137.08" y2="360" stroke="#2b2b2b" stroke-width="1.5"/>
<line x1="156.1" y1="357" x2="156.1" y2="362.5" stroke="#2b2b2b" stroke-width="1.5"/>
<text x="156.1" y="379.2" font-size="16" text-anchor="middle">0.4</text>
<line x1="175.12" y1="357" x2="175.12" y2="360" stroke="#2b2b2b" stroke-width="1.5"/>
<line x1="194.15" y1="357" x2="194.15" y2="362.5" stroke="#2b2b2b" stroke-width="1.5"/>
<text x="194.15" y="379.2" font-size="16" text-anchor="middle">0.6</text>
<line x1="213.18" y1="357" x2="213.18" y2="360" stroke="#2b2b2b" stroke-width="1.5"/>
<line x1="232.2" y1="357" x2="232.2" y2="362.5" stroke="#2b2b2b" stroke-width="1.5"/>
<text x="232.2" y="379.2" font-size="16" text-anchor="middle">0.8</text>
<line x1="251.22" y1="357" x2="251.22" y2="360" stroke="#2b2b2b" stroke-width="1.5"/>
<line x1="270.25" y1="357" x2="270.25" y2="362.5" stroke="#2b2b2b" stroke-width="1.5"/>
<text x="270.25" y="379.2" font-size="16" text-anchor="middle">1.0</text>
<line x1="289.27" y1="357" x2="289.27" y2="360" stroke="#2b2b2b" stroke-width="1.5"/>
<line x1="308.3" y1="357" x2="308.3" y2="362.5" stroke="#2b2b2b" stroke-width="1.5"/>
<text x="308.3" y="379.2" font-size="16" text-anchor="middle">1.2</text>
<line x1="327.33" y1="357" x2="327.33" y2="360" stroke="#2b2b2b" stroke-width="1.5"/>
<line x1="346.35" y1="357" x2="346.35" y2="362.5" stroke="#2b2b2b" stroke-width="1.5"/>
<text x="346.35" y="379.2" font-size="16" text-anchor="middle">1.4</text>
<line x1="365.38" y1="357" x2="365.38" y2="360" stroke="#2b2b2b" stroke-width="1.5"/>
<line x1="384.4" y1="357" x2="384.4" y2="362.5" stroke="#2b2b2b" stroke-width="1.5"/>
<text x="384.4" y="379.2" font-size="16" text-anchor="middle">1.6</text>
<line x1="403.43" y1="357" x2="403.43" y2="360" stroke="#2b2b2b" stroke-width="1.5"/>
<line x1="422.45" y1="357" x2="422.45" y2="362.5" stroke="#2b2b2b" stroke-width="1.5"/>
<text x="422.45" y="379.2" font-size="16" text-anchor="middle">1.8</text>
<line x1="441.48" y1="357" x2="441.48" y2="360" stroke="#2b2b2b" stroke-width="1.5"/>
<line x1="460.5" y1="357" x2="460.5" y2="362.5" stroke="#2b2b2b" stroke-width="1.5"/>
<text x="460.5" y="379.2" font-size="16" text-anchor="middle">2.0</text>
<line x1="80" y1="42" x2="80" y2="47.5" stroke="#2b2b2b" stroke-width="1.5"/>
<text x="80" y="34.4" font-size="16" text-anchor="middle">0</text>
<line x1="101.83" y1="44.5" x2="101.83" y2="47.5" stroke="#2b2b2b" stroke-width="1.5"/>
<line x1="123.66" y1="42" x2="123.66" y2="47.5" stroke="#2b2b2b" stroke-width="1.5"/>
<text x="123.66" y="34.4" font-size="16" text-anchor="middle">10</text>
<line x1="145.49" y1="44.5" x2="145.49" y2="47.5" stroke="#2b2b2b" stroke-width="1.5"/>
<line x1="167.32" y1="42" x2="167.32" y2="47.5" stroke="#2b2b2b" stroke-width="1.5"/>
<text x="167.32" y="34.4" font-size="16" text-anchor="middle">20</text>
<line x1="189.15" y1="44.5" x2="189.15" y2="47.5" stroke="#2b2b2b" stroke-width="1.5"/>
<line x1="210.98" y1="42" x2="210.98" y2="47.5" stroke="#2b2b2b" stroke-width="1.5"/>
<text x="210.98" y="34.4" font-size="16" text-anchor="middle">30</text>
<line x1="232.81" y1="44.5" x2="232.81" y2="47.5" stroke="#2b2b2b" stroke-width="1.5"/>
<line x1="254.64" y1="42" x2="254.64" y2="47.5" stroke="#2b2b2b" stroke-width="1.5"/>
<text x="254.64" y="34.4" font-size="16" text-anchor="middle">40</text>
<line x1="276.47" y1="44.5" x2="276.47" y2="47.5" stroke="#2b2b2b" stroke-width="1.5"/>
<line x1="298.3" y1="42" x2="298.3" y2="47.5" stroke="#2b2b2b" stroke-width="1.5"/>
<text x="298.3" y="34.4" font-size="16" text-anchor="middle">50</text>
<line x1="320.13" y1="44.5" x2="320.13" y2="47.5" stroke="#2b2b2b" stroke-width="1.5"/>
<line x1="341.96" y1="42" x2="341.96" y2="47.5" stroke="#2b2b2b" stroke-width="1.5"/>
<text x="341.96" y="34.4" font-size="16" text-anchor="middle">60</text>
<line x1="363.79" y1="44.5" x2="363.79" y2="47.5" stroke="#2b2b2b" stroke-width="1.5"/>
<line x1="385.62" y1="42" x2="385.62" y2="47.5" stroke="#2b2b2b" stroke-width="1.5"/>
<text x="385.62" y="34.4" font-size="16" text-anchor="middle">70</text>
<line x1="407.45" y1="44.5" x2="407.45" y2="47.5" stroke="#2b2b2b" stroke-width="1.5"/>
<line x1="429.28" y1="42" x2="429.28" y2="47.5" stroke="#2b2b2b" stroke-width="1.5"/>
<text x="429.28" y="34.4" font-size="16" text-anchor="middle">80</text>
<line x1="451.11" y1="44.5" x2="451.11" y2="47.5" stroke="#2b2b2b" stroke-width="1.5"/>
<text x="192.5" y="15.8" font-size="18.3" text-anchor="start">Fuel utilisation (%)</text>
<text x="26" y="20.7" font-size="25" text-anchor="start">a)</text>
<text x="0" y="0" font-size="19.2" text-anchor="middle" transform="translate(39.9 198.1) rotate(-90)">Voltage (V)</text>
<text x="0" y="0" font-size="18" text-anchor="middle" transform="translate(512.3 216.8) rotate(-90)">Power density (W·cm<tspan font-size="11" dy="-7.8">-2</tspan><tspan dy="7.8">)</tspan></text>
<text x="179.6" y="402.8" font-size="18.3">Current density (A·cm<tspan font-size="11" dy="-7.8">-2</tspan><tspan dy="7.8">)</tspan></text>
<rect x="143.4" y="61.2" width="5.2" height="5.2" fill="#e0e619"/>
<circle cx="146" cy="85" r="3.8" fill="#f88a0c"/>
<path d="M146 101.6L150.5 109.4L141.5 109.4Z" fill="#45bf74"/>
<path d="M146 122.2L150.8 127L146 131.8L141.2 127Z" fill="#0b7ff2"/>
<text x="169.6" y="70" font-size="16.8" text-anchor="start">Reference cell</text>
<text x="169.6" y="90.6" font-size="16.8" text-anchor="start">Cell with 200 nm CGO barrier layer</text>
<text x="169.6" y="110.9" font-size="16.8" text-anchor="start">Cell with 400 nm CGO barrier layer</text>
<text x="169.6" y="131.3" font-size="16.8" text-anchor="start">Cell with 800 nm CGO barrier layer</text>
<path d="M378.9 170.5V182.8H433" fill="none" stroke="#808080" stroke-width="1.2"/>
<path d="M439.5 182.8L431.5 180.2L431.5 185.4Z" fill="#111"/>
<path d="M161.5 223.8V236.9H106" fill="none" stroke="#808080" stroke-width="1.2"/>
<path d="M99.2 236.9L107.2 234.3L107.2 239.5Z" fill="#111"/>
<line x1="80.7" y1="513.75" x2="463" y2="513.75" stroke="#dcdcdc" stroke-width="0.8" stroke-dasharray="1.5 2"/>
<line x1="80.7" y1="590.2" x2="463" y2="590.2" stroke="#dcdcdc" stroke-width="0.8" stroke-dasharray="1.5 2"/>
<line x1="157.15" y1="437.5" x2="157.15" y2="628.6" stroke="#dcdcdc" stroke-width="0.8" stroke-dasharray="1.5 2"/>
<line x1="233.6" y1="437.5" x2="233.6" y2="628.6" stroke="#dcdcdc" stroke-width="0.8" stroke-dasharray="1.5 2"/>
<line x1="310.05" y1="437.5" x2="310.05" y2="628.6" stroke="#dcdcdc" stroke-width="0.8" stroke-dasharray="1.5 2"/>
<line x1="386.5" y1="437.5" x2="386.5" y2="628.6" stroke="#dcdcdc" stroke-width="0.8" stroke-dasharray="1.5 2"/>
<rect x="81.5" y="438.5" width="280.5" height="89" fill="#fff"/>
<clipPath id="cb"><rect x="80.7" y="437.5" width="382.3" height="191.10000000000002"/></clipPath>
<g clip-path="url(#cb)">
<rect x="239" y="628.7" width="6.6" height="6.6" fill="#e0e619"/><rect x="239.2" y="627.1" width="6.6" height="6.6" fill="#e0e619"/><rect x="239.4" y="625.51" width="6.6" height="6.6" fill="#e0e619"/><rect x="239.6" y="623.91" width="6.6" height="6.6" fill="#e0e619"/><rect x="239.8" y="622.32" width="6.6" height="6.6" fill="#e0e619"/><rect x="240" y="620.72" width="6.6" height="6.6" fill="#e0e619"/><rect x="240.2" y="619.13" width="6.6" height="6.6" fill="#e0e619"/><rect x="240.4" y="617.53" width="6.6" height="6.6" fill="#e0e619"/><rect x="240.61" y="615.94" width="6.6" height="6.6" fill="#e0e619"/><rect x="240.83" y="614.35" width="6.6" height="6.6" fill="#e0e619"/><rect x="241.05" y="612.75" width="6.6" height="6.6" fill="#e0e619"/><rect x="241.28" y="611.16" width="6.6" height="6.6" fill="#e0e619"/><rect x="241.51" y="609.57" width="6.6" height="6.6" fill="#e0e619"/><rect x="241.74" y="607.98" width="6.6" height="6.6" fill="#e0e619"/><rect x="241.98" y="606.39" width="6.6" height="6.6" fill="#e0e619"/><rect x="242.22" y="604.8" width="6.6" height="6.6" fill="#e0e619"/><rect x="242.47" y="603.21" width="6.6" height="6.6" fill="#e0e619"/><rect x="242.73" y="601.62" width="6.6" height="6.6" fill="#e0e619"/><rect x="243.01" y="600.04" width="6.6" height="6.6" fill="#e0e619"/><rect x="243.31" y="598.46" width="6.6" height="6.6" fill="#e0e619"/><rect x="243.66" y="596.89" width="6.6" height="6.6" fill="#e0e619"/><rect x="244.05" y="595.33" width="6.6" height="6.6" fill="#e0e619"/><rect x="244.5" y="593.79" width="6.6" height="6.6" fill="#e0e619"/><rect x="245.03" y="592.27" width="6.6" height="6.6" fill="#e0e619"/><rect x="245.65" y="590.79" width="6.6" height="6.6" fill="#e0e619"/><rect x="246.36" y="589.34" width="6.6" height="6.6" fill="#e0e619"/><rect x="247.14" y="587.94" width="6.6" height="6.6" fill="#e0e619"/><rect x="248.06" y="586.62" width="6.6" height="6.6" fill="#e0e619"/><rect x="249.1" y="585.4" width="6.6" height="6.6" fill="#e0e619"/><rect x="250.2" y="584.22" width="6.6" height="6.6" fill="#e0e619"/><rect x="251.31" y="583.06" width="6.6" height="6.6" fill="#e0e619"/><rect x="252.49" y="581.97" width="6.6" height="6.6" fill="#e0e619"/><rect x="253.74" y="580.95" width="6.6" height="6.6" fill="#e0e619"/><rect x="255" y="579.96" width="6.6" height="6.6" fill="#e0e619"/><rect x="256.27" y="578.97" width="6.6" height="6.6" fill="#e0e619"/><rect x="257.55" y="578" width="6.6" height="6.6" fill="#e0e619"/><rect x="258.85" y="577.05" width="6.6" height="6.6" fill="#e0e619"/><rect x="260.17" y="576.14" width="6.6" height="6.6" fill="#e0e619"/><rect x="261.54" y="575.29" width="6.6" height="6.6" fill="#e0e619"/><rect x="262.94" y="574.51" width="6.6" height="6.6" fill="#e0e619"/><rect x="264.36" y="573.76" width="6.6" height="6.6" fill="#e0e619"/><rect x="265.8" y="573.04" width="6.6" height="6.6" fill="#e0e619"/><rect x="267.26" y="572.37" width="6.6" height="6.6" fill="#e0e619"/><rect x="268.74" y="571.74" width="6.6" height="6.6" fill="#e0e619"/><rect x="270.24" y="571.16" width="6.6" height="6.6" fill="#e0e619"/><rect x="271.77" y="570.65" width="6.6" height="6.6" fill="#e0e619"/><rect x="273.31" y="570.18" width="6.6" height="6.6" fill="#e0e619"/><rect x="274.86" y="569.78" width="6.6" height="6.6" fill="#e0e619"/><rect x="276.43" y="569.43" width="6.6" height="6.6" fill="#e0e619"/><rect x="278.02" y="569.17" width="6.6" height="6.6" fill="#e0e619"/><rect x="279.62" y="569.01" width="6.6" height="6.6" fill="#e0e619"/><rect x="281.22" y="568.99" width="6.6" height="6.6" fill="#e0e619"/><rect x="282.82" y="569.14" width="6.6" height="6.6" fill="#e0e619"/><rect x="284.41" y="569.4" width="6.6" height="6.6" fill="#e0e619"/><rect x="286" y="569.67" width="6.6" height="6.6" fill="#e0e619"/><rect x="287.59" y="569.89" width="6.6" height="6.6" fill="#e0e619"/><rect x="289.19" y="570.04" width="6.6" height="6.6" fill="#e0e619"/><rect x="290.79" y="570.19" width="6.6" height="6.6" fill="#e0e619"/><rect x="292.39" y="570.33" width="6.6" height="6.6" fill="#e0e619"/><rect x="293.99" y="570.47" width="6.6" height="6.6" fill="#e0e619"/><rect x="295.6" y="570.61" width="6.6" height="6.6" fill="#e0e619"/><rect x="297.2" y="570.74" width="6.6" height="6.6" fill="#e0e619"/><rect x="298.8" y="570.86" width="6.6" height="6.6" fill="#e0e619"/><rect x="300.41" y="570.96" width="6.6" height="6.6" fill="#e0e619"/><rect x="302.01" y="571.07" width="6.6" height="6.6" fill="#e0e619"/><rect x="303.62" y="571.18" width="6.6" height="6.6" fill="#e0e619"/><rect x="305.22" y="571.3" width="6.6" height="6.6" fill="#e0e619"/><rect x="306.82" y="571.45" width="6.6" height="6.6" fill="#e0e619"/><rect x="308.41" y="571.66" width="6.6" height="6.6" fill="#e0e619"/><rect x="310" y="571.95" width="6.6" height="6.6" fill="#e0e619"/><rect x="311.55" y="572.35" width="6.6" height="6.6" fill="#e0e619"/><rect x="313.05" y="572.92" width="6.6" height="6.6" fill="#e0e619"/><rect x="314.51" y="573.61" width="6.6" height="6.6" fill="#e0e619"/><rect x="315.92" y="574.37" width="6.6" height="6.6" fill="#e0e619"/><rect x="317.26" y="575.26" width="6.6" height="6.6" fill="#e0e619"/><rect x="318.56" y="576.21" width="6.6" height="6.6" fill="#e0e619"/><rect x="319.83" y="577.2" width="6.6" height="6.6" fill="#e0e619"/><rect x="321.06" y="578.22" width="6.6" height="6.6" fill="#e0e619"/><rect x="322.26" y="579.3" width="6.6" height="6.6" fill="#e0e619"/><rect x="323.42" y="580.41" width="6.6" height="6.6" fill="#e0e619"/><rect x="324.51" y="581.59" width="6.6" height="6.6" fill="#e0e619"/><rect x="325.51" y="582.85" width="6.6" height="6.6" fill="#e0e619"/><rect x="326.55" y="584.08" width="6.6" height="6.6" fill="#e0e619"/><rect x="327.7" y="585.2" width="6.6" height="6.6" fill="#e0e619"/>
<circle cx="164" cy="632" r="3.1" fill="#f88a0c"/><circle cx="164.23" cy="630.4" r="3.1" fill="#f88a0c"/><circle cx="164.46" cy="628.8" r="3.1" fill="#f88a0c"/><circle cx="164.69" cy="627.2" r="3.1" fill="#f88a0c"/><circle cx="164.92" cy="625.6" r="3.1" fill="#f88a0c"/><circle cx="165.15" cy="624" r="3.1" fill="#f88a0c"/><circle cx="165.38" cy="622.39" r="3.1" fill="#f88a0c"/><circle cx="165.61" cy="620.79" r="3.1" fill="#f88a0c"/><circle cx="165.85" cy="619.19" r="3.1" fill="#f88a0c"/><circle cx="166.09" cy="617.6" r="3.1" fill="#f88a0c"/><circle cx="166.34" cy="616" r="3.1" fill="#f88a0c"/><circle cx="166.6" cy="614.4" r="3.1" fill="#f88a0c"/><circle cx="166.86" cy="612.8" r="3.1" fill="#f88a0c"/><circle cx="167.12" cy="611.21" r="3.1" fill="#f88a0c"/><circle cx="167.38" cy="609.61" r="3.1" fill="#f88a0c"/><circle cx="167.65" cy="608.02" r="3.1" fill="#f88a0c"/><circle cx="167.92" cy="606.42" r="3.1" fill="#f88a0c"/><circle cx="168.21" cy="604.83" r="3.1" fill="#f88a0c"/><circle cx="168.51" cy="603.24" r="3.1" fill="#f88a0c"/><circle cx="168.83" cy="601.66" r="3.1" fill="#f88a0c"/><circle cx="169.18" cy="600.08" r="3.1" fill="#f88a0c"/><circle cx="169.58" cy="598.51" r="3.1" fill="#f88a0c"/><circle cx="170.03" cy="596.96" r="3.1" fill="#f88a0c"/><circle cx="170.55" cy="595.43" r="3.1" fill="#f88a0c"/><circle cx="171.15" cy="593.93" r="3.1" fill="#f88a0c"/><circle cx="171.8" cy="592.44" r="3.1" fill="#f88a0c"/><circle cx="172.47" cy="590.97" r="3.1" fill="#f88a0c"/><circle cx="173.18" cy="589.52" r="3.1" fill="#f88a0c"/><circle cx="173.97" cy="588.11" r="3.1" fill="#f88a0c"/><circle cx="174.88" cy="586.77" r="3.1" fill="#f88a0c"/><circle cx="175.91" cy="585.53" r="3.1" fill="#f88a0c"/><circle cx="177.02" cy="584.35" r="3.1" fill="#f88a0c"/><circle cx="178.23" cy="583.28" r="3.1" fill="#f88a0c"/><circle cx="179.54" cy="582.33" r="3.1" fill="#f88a0c"/><circle cx="180.94" cy="581.53" r="3.1" fill="#f88a0c"/><circle cx="182.42" cy="580.86" r="3.1" fill="#f88a0c"/><circle cx="183.93" cy="580.3" r="3.1" fill="#f88a0c"/><circle cx="185.48" cy="579.83" r="3.1" fill="#f88a0c"/><circle cx="187.05" cy="579.43" r="3.1" fill="#f88a0c"/><circle cx="188.63" cy="579.08" r="3.1" fill="#f88a0c"/><circle cx="190.21" cy="578.76" r="3.1" fill="#f88a0c"/><circle cx="191.8" cy="578.48" r="3.1" fill="#f88a0c"/><circle cx="193.4" cy="578.22" r="3.1" fill="#f88a0c"/><circle cx="195" cy="577.99" r="3.1" fill="#f88a0c"/><circle cx="196.6" cy="577.78" r="3.1" fill="#f88a0c"/><circle cx="198.21" cy="577.58" r="3.1" fill="#f88a0c"/><circle cx="199.82" cy="577.38" r="3.1" fill="#f88a0c"/><circle cx="201.42" cy="577.2" r="3.1" fill="#f88a0c"/><circle cx="203.03" cy="577.02" r="3.1" fill="#f88a0c"/><circle cx="204.64" cy="576.84" r="3.1" fill="#f88a0c"/><circle cx="206.24" cy="576.66" r="3.1" fill="#f88a0c"/><circle cx="207.85" cy="576.49" r="3.1" fill="#f88a0c"/><circle cx="209.46" cy="576.32" r="3.1" fill="#f88a0c"/><circle cx="211.07" cy="576.15" r="3.1" fill="#f88a0c"/><circle cx="212.68" cy="575.99" r="3.1" fill="#f88a0c"/><circle cx="214.29" cy="575.85" r="3.1" fill="#f88a0c"/><circle cx="215.9" cy="575.72" r="3.1" fill="#f88a0c"/><circle cx="217.51" cy="575.61" r="3.1" fill="#f88a0c"/><circle cx="219.13" cy="575.53" r="3.1" fill="#f88a0c"/><circle cx="220.75" cy="575.48" r="3.1" fill="#f88a0c"/><circle cx="222.36" cy="575.47" r="3.1" fill="#f88a0c"/><circle cx="223.98" cy="575.49" r="3.1" fill="#f88a0c"/><circle cx="225.6" cy="575.56" r="3.1" fill="#f88a0c"/><circle cx="227.21" cy="575.71" r="3.1" fill="#f88a0c"/><circle cx="228.81" cy="575.94" r="3.1" fill="#f88a0c"/><circle cx="230.38" cy="576.3" r="3.1" fill="#f88a0c"/><circle cx="231.91" cy="576.84" r="3.1" fill="#f88a0c"/><circle cx="233.35" cy="577.57" r="3.1" fill="#f88a0c"/><circle cx="234.69" cy="578.47" r="3.1" fill="#f88a0c"/><circle cx="235.96" cy="579.47" r="3.1" fill="#f88a0c"/><circle cx="237.11" cy="580.61" r="3.1" fill="#f88a0c"/><circle cx="238.12" cy="581.87" r="3.1" fill="#f88a0c"/><circle cx="239.06" cy="583.18" r="3.1" fill="#f88a0c"/><circle cx="240" cy="584.5" r="3.1" fill="#f88a0c"/>
<path d="M158 628.87L161.6 635.13L154.4 635.13Z" fill="#45bf74"/><path d="M158.23 627.28L161.83 633.54L154.63 633.54Z" fill="#45bf74"/><path d="M158.46 625.69L162.06 631.95L154.86 631.95Z" fill="#45bf74"/><path d="M158.69 624.1L162.29 630.36L155.09 630.36Z" fill="#45bf74"/><path d="M158.92 622.51L162.52 628.77L155.32 628.77Z" fill="#45bf74"/><path d="M159.15 620.92L162.75 627.18L155.55 627.18Z" fill="#45bf74"/><path d="M159.38 619.33L162.98 625.59L155.78 625.59Z" fill="#45bf74"/><path d="M159.62 617.74L163.22 624L156.02 624Z" fill="#45bf74"/><path d="M159.85 616.15L163.45 622.41L156.25 622.41Z" fill="#45bf74"/><path d="M160.09 614.56L163.69 620.82L156.49 620.82Z" fill="#45bf74"/><path d="M160.33 612.97L163.93 619.23L156.73 619.23Z" fill="#45bf74"/><path d="M160.58 611.38L164.18 617.64L156.98 617.64Z" fill="#45bf74"/><path d="M160.82 609.79L164.42 616.06L157.22 616.06Z" fill="#45bf74"/><path d="M161.06 608.2L164.66 614.47L157.46 614.47Z" fill="#45bf74"/><path d="M161.3 606.61L164.9 612.88L157.7 612.88Z" fill="#45bf74"/><path d="M161.55 605.03L165.15 611.29L157.95 611.29Z" fill="#45bf74"/><path d="M161.8 603.44L165.4 609.7L158.2 609.7Z" fill="#45bf74"/><path d="M162.06 601.85L165.66 608.12L158.46 608.12Z" fill="#45bf74"/><path d="M162.33 600.27L165.93 606.53L158.73 606.53Z" fill="#45bf74"/><path d="M162.63 598.69L166.23 604.95L159.03 604.95Z" fill="#45bf74"/><path d="M162.95 597.11L166.55 603.38L159.35 603.38Z" fill="#45bf74"/><path d="M163.3 595.55L166.9 601.81L159.7 601.81Z" fill="#45bf74"/><path d="M163.69 593.99L167.29 600.25L160.09 600.25Z" fill="#45bf74"/><path d="M164.11 592.44L167.71 598.7L160.51 598.7Z" fill="#45bf74"/><path d="M164.56 590.9L168.16 597.16L160.96 597.16Z" fill="#45bf74"/><path d="M165.06 589.37L168.66 595.63L161.46 595.63Z" fill="#45bf74"/><path d="M165.61 587.86L169.21 594.12L162.01 594.12Z" fill="#45bf74"/><path d="M166.21 586.37L169.81 592.63L162.61 592.63Z" fill="#45bf74"/><path d="M166.87 584.9L170.47 591.16L163.27 591.16Z" fill="#45bf74"/><path d="M167.62 583.48L171.22 589.75L164.02 589.75Z" fill="#45bf74"/><path d="M168.5 582.14L172.1 588.4L164.9 588.4Z" fill="#45bf74"/><path d="M169.49 580.88L173.09 587.14L165.89 587.14Z" fill="#45bf74"/><path d="M170.56 579.67L174.16 585.93L166.96 585.93Z" fill="#45bf74"/><path d="M171.69 578.54L175.29 584.8L168.09 584.8Z" fill="#45bf74"/><path d="M172.95 577.53L176.55 583.8L169.35 583.8Z" fill="#45bf74"/><path d="M174.32 576.7L177.92 582.96L170.72 582.96Z" fill="#45bf74"/><path d="M175.78 576.04L179.38 582.3L172.18 582.3Z" fill="#45bf74"/><path d="M177.3 575.5L180.9 581.76L173.7 581.76Z" fill="#45bf74"/><path d="M178.84 575.05L182.44 581.32L175.24 581.32Z" fill="#45bf74"/><path d="M180.4 574.68L184 580.95L176.8 580.95Z" fill="#45bf74"/><path d="M181.98 574.37L185.58 580.63L178.38 580.63Z" fill="#45bf74"/><path d="M183.56 574.09L187.16 580.36L179.96 580.36Z" fill="#45bf74"/><path d="M185.15 573.85L188.75 580.11L181.55 580.11Z" fill="#45bf74"/><path d="M186.75 573.64L190.35 579.91L183.15 579.91Z" fill="#45bf74"/><path d="M188.34 573.48L191.94 579.74L184.74 579.74Z" fill="#45bf74"/><path d="M189.94 573.34L193.54 579.6L186.34 579.6Z" fill="#45bf74"/><path d="M191.55 573.22L195.15 579.48L187.95 579.48Z" fill="#45bf74"/><path d="M193.15 573.11L196.75 579.37L189.55 579.37Z" fill="#45bf74"/><path d="M194.75 573L198.35 579.27L191.15 579.27Z" fill="#45bf74"/><path d="M196.36 572.9L199.96 579.17L192.76 579.17Z" fill="#45bf74"/><path d="M197.96 572.8L201.56 579.07L194.36 579.07Z" fill="#45bf74"/><path d="M199.56 572.7L203.16 578.96L195.96 578.96Z" fill="#45bf74"/><path d="M201.17 572.58L204.77 578.85L197.57 578.85Z" fill="#45bf74"/><path d="M202.77 572.46L206.37 578.73L199.17 578.73Z" fill="#45bf74"/><path d="M204.37 572.35L207.97 578.61L200.77 578.61Z" fill="#45bf74"/><path d="M205.98 572.23L209.58 578.49L202.38 578.49Z" fill="#45bf74"/><path d="M207.58 572.12L211.18 578.38L203.98 578.38Z" fill="#45bf74"/><path d="M209.18 572.02L212.78 578.28L205.58 578.28Z" fill="#45bf74"/><path d="M210.79 571.94L214.39 578.2L207.19 578.2Z" fill="#45bf74"/><path d="M212.39 571.88L215.99 578.14L208.79 578.14Z" fill="#45bf74"/><path d="M214 571.86L217.6 578.12L210.4 578.12Z" fill="#45bf74"/><path d="M215.61 571.87L219.21 578.13L212.01 578.13Z" fill="#45bf74"/><path d="M217.21 571.93L220.81 578.19L213.61 578.19Z" fill="#45bf74"/><path d="M218.82 572.05L222.42 578.31L215.22 578.31Z" fill="#45bf74"/><path d="M220.41 572.26L224.01 578.53L216.81 578.53Z" fill="#45bf74"/><path d="M221.98 572.59L225.58 578.85L218.38 578.85Z" fill="#45bf74"/><path d="M223.51 573.06L227.11 579.33L219.91 579.33Z" fill="#45bf74"/><path d="M224.97 573.73L228.57 580L221.37 580Z" fill="#45bf74"/><path d="M226.32 574.6L229.92 580.87L222.72 580.87Z" fill="#45bf74"/><path d="M227.49 575.7L231.09 581.97L223.89 581.97Z" fill="#45bf74"/><path d="M228.46 576.99L232.06 583.25L224.86 583.25Z" fill="#45bf74"/><path d="M229.27 578.37L232.87 584.64L225.67 584.64Z" fill="#45bf74"/><path d="M229.91 579.85L233.51 586.11L226.31 586.11Z" fill="#45bf74"/><path d="M230.46 581.35L234.06 587.62L226.86 587.62Z" fill="#45bf74"/><path d="M231 582.87L234.6 589.13L227.4 589.13Z" fill="#45bf74"/>
<path d="M170.5 628.3L174.2 632L170.5 635.7L166.8 632Z" fill="#0b7ff2"/><path d="M170.73 626.7L174.43 630.4L170.73 634.1L167.03 630.4Z" fill="#0b7ff2"/><path d="M170.95 625.09L174.65 628.79L170.95 632.49L167.25 628.79Z" fill="#0b7ff2"/><path d="M171.18 623.48L174.88 627.18L171.18 630.88L167.48 627.18Z" fill="#0b7ff2"/><path d="M171.4 621.88L175.1 625.58L171.4 629.28L167.7 625.58Z" fill="#0b7ff2"/><path d="M171.63 620.27L175.33 623.97L171.63 627.67L167.93 623.97Z" fill="#0b7ff2"/><path d="M171.86 618.67L175.56 622.37L171.86 626.07L168.16 622.37Z" fill="#0b7ff2"/><path d="M172.09 617.07L175.79 620.77L172.09 624.47L168.39 620.77Z" fill="#0b7ff2"/><path d="M172.33 615.46L176.03 619.16L172.33 622.86L168.63 619.16Z" fill="#0b7ff2"/><path d="M172.58 613.86L176.28 617.56L172.58 621.26L168.88 617.56Z" fill="#0b7ff2"/><path d="M172.84 612.26L176.54 615.96L172.84 619.66L169.14 615.96Z" fill="#0b7ff2"/><path d="M173.11 610.66L176.81 614.36L173.11 618.06L169.41 614.36Z" fill="#0b7ff2"/><path d="M173.39 609.07L177.09 612.77L173.39 616.47L169.69 612.77Z" fill="#0b7ff2"/><path d="M173.67 607.47L177.37 611.17L173.67 614.87L169.97 611.17Z" fill="#0b7ff2"/><path d="M173.97 605.88L177.67 609.58L173.97 613.28L170.27 609.58Z" fill="#0b7ff2"/><path d="M174.27 604.28L177.97 607.98L174.27 611.68L170.57 607.98Z" fill="#0b7ff2"/><path d="M174.58 602.69L178.28 606.39L174.58 610.09L170.88 606.39Z" fill="#0b7ff2"/><path d="M174.9 601.1L178.6 604.8L174.9 608.5L171.2 604.8Z" fill="#0b7ff2"/><path d="M175.24 599.52L178.94 603.22L175.24 606.92L171.54 603.22Z" fill="#0b7ff2"/><path d="M175.6 597.94L179.3 601.64L175.6 605.34L171.9 601.64Z" fill="#0b7ff2"/><path d="M175.98 596.36L179.68 600.06L175.98 603.76L172.28 600.06Z" fill="#0b7ff2"/><path d="M176.41 594.8L180.11 598.5L176.41 602.2L172.71 598.5Z" fill="#0b7ff2"/><path d="M176.9 593.25L180.6 596.95L176.9 600.65L173.2 596.95Z" fill="#0b7ff2"/><path d="M177.45 591.73L181.15 595.43L177.45 599.13L173.75 595.43Z" fill="#0b7ff2"/><path d="M178.09 590.24L181.79 593.94L178.09 597.64L174.39 593.94Z" fill="#0b7ff2"/><path d="M178.77 588.77L182.47 592.47L178.77 596.17L175.07 592.47Z" fill="#0b7ff2"/><path d="M179.48 587.31L183.18 591.01L179.48 594.71L175.78 591.01Z" fill="#0b7ff2"/><path d="M180.19 585.86L183.89 589.56L180.19 593.26L176.49 589.56Z" fill="#0b7ff2"/><path d="M180.98 584.44L184.68 588.14L180.98 591.84L177.28 588.14Z" fill="#0b7ff2"/><path d="M181.88 583.09L185.58 586.79L181.88 590.49L178.18 586.79Z" fill="#0b7ff2"/><path d="M182.94 581.86L186.64 585.56L182.94 589.26L179.24 585.56Z" fill="#0b7ff2"/><path d="M184.12 580.76L187.82 584.46L184.12 588.16L180.42 584.46Z" fill="#0b7ff2"/><path d="M185.4 579.76L189.1 583.46L185.4 587.16L181.7 583.46Z" fill="#0b7ff2"/><path d="M186.76 578.87L190.46 582.57L186.76 586.27L183.06 582.57Z" fill="#0b7ff2"/><path d="M188.18 578.1L191.88 581.8L188.18 585.5L184.48 581.8Z" fill="#0b7ff2"/><path d="M189.66 577.44L193.36 581.14L189.66 584.84L185.96 581.14Z" fill="#0b7ff2"/><path d="M191.19 576.9L194.89 580.6L191.19 584.3L187.49 580.6Z" fill="#0b7ff2"/><path d="M192.76 576.51L196.46 580.21L192.76 583.91L189.06 580.21Z" fill="#0b7ff2"/><path d="M194.35 576.2L198.05 579.9L194.35 583.6L190.65 579.9Z" fill="#0b7ff2"/><path d="M195.95 575.94L199.65 579.64L195.95 583.34L192.25 579.64Z" fill="#0b7ff2"/><path d="M197.55 575.7L201.25 579.4L197.55 583.1L193.85 579.4Z" fill="#0b7ff2"/><path d="M199.15 575.45L202.85 579.15L199.15 582.85L195.45 579.15Z" fill="#0b7ff2"/><path d="M200.75 575.17L204.45 578.87L200.75 582.57L197.05 578.87Z" fill="#0b7ff2"/><path d="M202.35 574.9L206.05 578.6L202.35 582.3L198.65 578.6Z" fill="#0b7ff2"/><path d="M203.95 574.64L207.65 578.34L203.95 582.04L200.25 578.34Z" fill="#0b7ff2"/><path d="M205.55 574.38L209.25 578.08L205.55 581.78L201.85 578.08Z" fill="#0b7ff2"/><path d="M207.15 574.13L210.85 577.83L207.15 581.53L203.45 577.83Z" fill="#0b7ff2"/><path d="M208.75 573.87L212.45 577.57L208.75 581.27L205.05 577.57Z" fill="#0b7ff2"/><path d="M210.35 573.6L214.05 577.3L210.35 581L206.65 577.3Z" fill="#0b7ff2"/><path d="M211.94 573.31L215.64 577.01L211.94 580.71L208.24 577.01Z" fill="#0b7ff2"/><path d="M213.53 572.99L217.23 576.69L213.53 580.39L209.83 576.69Z" fill="#0b7ff2"/><path d="M215.11 572.62L218.81 576.32L215.11 580.02L211.41 576.32Z" fill="#0b7ff2"/><path d="M216.69 572.24L220.39 575.94L216.69 579.64L212.99 575.94Z" fill="#0b7ff2"/><path d="M218.26 571.86L221.96 575.56L218.26 579.26L214.56 575.56Z" fill="#0b7ff2"/><path d="M219.84 571.49L223.54 575.19L219.84 578.89L216.14 575.19Z" fill="#0b7ff2"/><path d="M221.43 571.16L225.13 574.86L221.43 578.56L217.73 574.86Z" fill="#0b7ff2"/><path d="M223.03 570.9L226.73 574.6L223.03 578.3L219.33 574.6Z" fill="#0b7ff2"/><path d="M224.64 570.76L228.34 574.46L224.64 578.16L220.94 574.46Z" fill="#0b7ff2"/><path d="M226.26 570.74L229.96 574.44L226.26 578.14L222.56 574.44Z" fill="#0b7ff2"/><path d="M227.88 570.86L231.58 574.56L227.88 578.26L224.18 574.56Z" fill="#0b7ff2"/><path d="M229.48 571.12L233.18 574.82L229.48 578.52L225.78 574.82Z" fill="#0b7ff2"/><path d="M231.05 571.51L234.75 575.21L231.05 578.91L227.35 575.21Z" fill="#0b7ff2"/><path d="M232.6 572L236.3 575.7L232.6 579.4L228.9 575.7Z" fill="#0b7ff2"/><path d="M234.09 572.63L237.79 576.33L234.09 580.03L230.39 576.33Z" fill="#0b7ff2"/><path d="M235.51 573.4L239.21 577.1L235.51 580.8L231.81 577.1Z" fill="#0b7ff2"/><path d="M236.84 574.33L240.54 578.03L236.84 581.73L233.14 578.03Z" fill="#0b7ff2"/><path d="M238.08 575.38L241.78 579.08L238.08 582.78L234.38 579.08Z" fill="#0b7ff2"/><path d="M239.18 576.56L242.88 580.26L239.18 583.96L235.48 580.26Z" fill="#0b7ff2"/><path d="M240.19 577.83L243.89 581.53L240.19 585.23L236.49 581.53Z" fill="#0b7ff2"/><path d="M241.14 579.14L244.84 582.84L241.14 586.54L237.44 582.84Z" fill="#0b7ff2"/><path d="M242.07 580.48L245.77 584.18L242.07 587.88L238.37 584.18Z" fill="#0b7ff2"/><path d="M243 581.8L246.7 585.5L243 589.2L239.3 585.5Z" fill="#0b7ff2"/>
<rect x="316.4" y="565.1" width="5" height="5" fill="#e0e619"/>
<path d="M242.3 632C242.67 629.17 243.72 620.33 244.5 615C245.28 609.67 246.08 603.83 247 600C247.92 596.17 248.83 594.17 250 592C251.17 589.83 252.67 588.42 254 587C255.33 585.58 256.17 584.92 258 583.5C259.83 582.08 262.33 580.03 265 578.5C267.67 576.97 271 575.33 274 574.3C277 573.27 280.17 572.48 283 572.3C285.83 572.12 288.17 572.92 291 573.2C293.83 573.48 296.5 573.7 300 574C303.5 574.3 309 574.5 312 575C315 575.5 316.17 576.1 318 577C319.83 577.9 321.5 579.23 323 580.4C324.5 581.57 325.92 582.9 327 584C328.08 585.1 329.08 586.5 329.5 587" fill="none" stroke="#333" stroke-width="1.2"/>
<path d="M164 632C164.42 629.17 165.63 620.33 166.5 615C167.37 609.67 168.28 603.83 169.2 600C170.12 596.17 170.95 594.33 172 592C173.05 589.67 174 587.75 175.5 586C177 584.25 178.58 582.7 181 581.5C183.42 580.3 186 579.58 190 578.8C194 578.02 200 577.35 205 576.8C210 576.25 215.83 575.6 220 575.5C224.17 575.4 227.33 575.53 230 576.2C232.67 576.87 234.33 578.12 236 579.5C237.67 580.88 239.33 583.67 240 584.5" fill="none" stroke="#333" stroke-width="1.2"/>
<path d="M158 632C158.42 629.17 159.67 620.33 160.5 615C161.33 609.67 162.08 604.17 163 600C163.92 595.83 164.92 592.67 166 590C167.08 587.33 168 585.75 169.5 584C171 582.25 172.42 580.67 175 579.5C177.58 578.33 180.83 577.62 185 577C189.17 576.38 195.33 576.13 200 575.8C204.67 575.47 209.5 575.05 213 575C216.5 574.95 218.83 575.08 221 575.5C223.17 575.92 224.67 576.58 226 577.5C227.33 578.42 228.17 579.58 229 581C229.83 582.42 230.67 585.17 231 586" fill="none" stroke="#333" stroke-width="1.2"/>
<path d="M170.5 632C170.92 629.17 172.08 620.33 173 615C173.92 609.67 175 603.83 176 600C177 596.17 177.83 594.42 179 592C180.17 589.58 181.17 587.33 183 585.5C184.83 583.67 187.17 582.08 190 581C192.83 579.92 196.33 579.67 200 579C203.67 578.33 208 577.75 212 577C216 576.25 220.67 574.75 224 574.5C227.33 574.25 229.67 574.75 232 575.5C234.33 576.25 236.17 577.33 238 579C239.83 580.67 242.17 584.42 243 585.5" fill="none" stroke="#333" stroke-width="1.2"/>
</g>
<rect x="80.7" y="437.5" width="382.3" height="191.10000000000002" fill="none" stroke="#2b2b2b" stroke-width="1.4"/>
<line x1="75.2" y1="437.3" x2="80.7" y2="437.3" stroke="#2b2b2b" stroke-width="1.5"/>
<text x="71.8" y="444.3" font-size="20" text-anchor="end">-0.2</text>
<line x1="77.9" y1="452.59" x2="80.7" y2="452.59" stroke="#2b2b2b" stroke-width="1.5"/>
<line x1="77.9" y1="467.88" x2="80.7" y2="467.88" stroke="#2b2b2b" stroke-width="1.5"/>
<line x1="77.9" y1="483.17" x2="80.7" y2="483.17" stroke="#2b2b2b" stroke-width="1.5"/>
<line x1="77.9" y1="498.46" x2="80.7" y2="498.46" stroke="#2b2b2b" stroke-width="1.5"/>
<line x1="75.2" y1="513.75" x2="80.7" y2="513.75" stroke="#2b2b2b" stroke-width="1.5"/>
<text x="71.8" y="520.75" font-size="20" text-anchor="end">-0.1</text>
<line x1="77.9" y1="529.04" x2="80.7" y2="529.04" stroke="#2b2b2b" stroke-width="1.5"/>
<line x1="77.9" y1="544.33" x2="80.7" y2="544.33" stroke="#2b2b2b" stroke-width="1.5"/>
<line x1="77.9" y1="559.62" x2="80.7" y2="559.62" stroke="#2b2b2b" stroke-width="1.5"/>
<line x1="77.9" y1="574.91" x2="80.7" y2="574.91" stroke="#2b2b2b" stroke-width="1.5"/>
<line x1="75.2" y1="590.2" x2="80.7" y2="590.2" stroke="#2b2b2b" stroke-width="1.5"/>
<text x="71.8" y="597.2" font-size="20" text-anchor="end">0.0</text>
<line x1="77.9" y1="605.49" x2="80.7" y2="605.49" stroke="#2b2b2b" stroke-width="1.5"/>
<line x1="77.9" y1="620.78" x2="80.7" y2="620.78" stroke="#2b2b2b" stroke-width="1.5"/>
<line x1="80.7" y1="628.6" x2="80.7" y2="634.1" stroke="#2b2b2b" stroke-width="1.5"/>
<text x="80.7" y="653.6" font-size="20" text-anchor="middle">0.0</text>
<line x1="95.99" y1="628.6" x2="95.99" y2="631.4" stroke="#2b2b2b" stroke-width="1.5"/>
<line x1="111.28" y1="628.6" x2="111.28" y2="631.4" stroke="#2b2b2b" stroke-width="1.5"/>
<line x1="126.57" y1="628.6" x2="126.57" y2="631.4" stroke="#2b2b2b" stroke-width="1.5"/>
<line x1="141.86" y1="628.6" x2="141.86" y2="631.4" stroke="#2b2b2b" stroke-width="1.5"/>
<line x1="157.15" y1="628.6" x2="157.15" y2="634.1" stroke="#2b2b2b" stroke-width="1.5"/>
<text x="157.15" y="653.6" font-size="20" text-anchor="middle">0.1</text>
<line x1="172.44" y1="628.6" x2="172.44" y2="631.4" stroke="#2b2b2b" stroke-width="1.5"/>
<line x1="187.73" y1="628.6" x2="187.73" y2="631.4" stroke="#2b2b2b" stroke-width="1.5"/>
<line x1="203.02" y1="628.6" x2="203.02" y2="631.4" stroke="#2b2b2b" stroke-width="1.5"/>
<line x1="218.31" y1="628.6" x2="218.31" y2="631.4" stroke="#2b2b2b" stroke-width="1.5"/>
<line x1="233.6" y1="628.6" x2="233.6" y2="634.1" stroke="#2b2b2b" stroke-width="1.5"/>
<text x="233.6" y="653.6" font-size="20" text-anchor="middle">0.2</text>
<line x1="248.89" y1="628.6" x2="248.89" y2="631.4" stroke="#2b2b2b" stroke-width="1.5"/>
<line x1="264.18" y1="628.6" x2="264.18" y2="631.4" stroke="#2b2b2b" stroke-width="1.5"/>
<line x1="279.47" y1="628.6" x2="279.47" y2="631.4" stroke="#2b2b2b" stroke-width="1.5"/>
<line x1="294.76" y1="628.6" x2="294.76" y2="631.4" stroke="#2b2b2b" stroke-width="1.5"/>
<line x1="310.05" y1="628.6" x2="310.05" y2="634.1" stroke="#2b2b2b" stroke-width="1.5"/>
<text x="310.05" y="653.6" font-size="20" text-anchor="middle">0.3</text>
<line x1="325.34" y1="628.6" x2="325.34" y2="631.4" stroke="#2b2b2b" stroke-width="1.5"/>
<line x1="340.63" y1="628.6" x2="340.63" y2="631.4" stroke="#2b2b2b" stroke-width="1.5"/>
<line x1="355.92" y1="628.6" x2="355.92" y2="631.4" stroke="#2b2b2b" stroke-width="1.5"/>
<line x1="371.21" y1="628.6" x2="371.21" y2="631.4" stroke="#2b2b2b" stroke-width="1.5"/>
<line x1="386.5" y1="628.6" x2="386.5" y2="634.1" stroke="#2b2b2b" stroke-width="1.5"/>
<text x="386.5" y="653.6" font-size="20" text-anchor="middle">0.4</text>
<line x1="401.79" y1="628.6" x2="401.79" y2="631.4" stroke="#2b2b2b" stroke-width="1.5"/>
<line x1="417.08" y1="628.6" x2="417.08" y2="631.4" stroke="#2b2b2b" stroke-width="1.5"/>
<line x1="432.37" y1="628.6" x2="432.37" y2="631.4" stroke="#2b2b2b" stroke-width="1.5"/>
<line x1="447.66" y1="628.6" x2="447.66" y2="631.4" stroke="#2b2b2b" stroke-width="1.5"/>
<line x1="462.95" y1="628.6" x2="462.95" y2="634.1" stroke="#2b2b2b" stroke-width="1.5"/>
<text x="462.95" y="653.6" font-size="20" text-anchor="middle">0.5</text>
<text x="26" y="419.2" font-size="24" text-anchor="start">b)</text>
<text x="224.0" y="679.3" font-size="22.3">Z' (Ω·cm<tspan font-size="13.5" dy="-10">2</tspan><tspan dy="10">)</tspan></text>
<text x="0" y="0" font-size="22.5" text-anchor="middle" transform="translate(32.8 537.3) rotate(-90)">Z&quot; (Ω·cm<tspan font-size="13.5" dy="-10">2</tspan><tspan dy="10">)</tspan></text>
<text x="398.5" y="472.8" font-size="22" font-weight="bold">0.9 V</text>
<rect x="119.7" y="449" width="4.6" height="4.6" fill="#e0e619"/>
<circle cx="122" cy="469.3" r="2.6" fill="#f88a0c"/>
<path d="M122 482.45L125.15 487.95L118.85 487.95Z" fill="#45bf74"/>
<path d="M122 499.75L125.25 503L122 506.25L118.75 503Z" fill="#0b7ff2"/>
<line x1="106.2" y1="519.6" x2="137" y2="519.6" stroke="#444" stroke-width="1.4"/>
<text x="141.2" y="456.3" font-size="14" text-anchor="start">Reference cell</text>
<text x="141.2" y="473.4" font-size="14" text-anchor="start">Cell with 200 nm CGO barrier layer</text>
<text x="141.2" y="490.2" font-size="14" text-anchor="start">Cell with 400 nm CGO barrier layer</text>
<text x="141.2" y="507.2" font-size="14" text-anchor="start">Cell with 800 nm CGO barrier layer</text>
<text x="141.2" y="523.8" font-size="14" text-anchor="start">Fitting</text>
<line x1="80.5" y1="735" x2="463.5" y2="735" stroke="#dcdcdc" stroke-width="0.8" stroke-dasharray="1.5 2"/>
<line x1="80.5" y1="798.75" x2="463.5" y2="798.75" stroke="#dcdcdc" stroke-width="0.8" stroke-dasharray="1.5 2"/>
<line x1="80.5" y1="862.5" x2="463.5" y2="862.5" stroke="#dcdcdc" stroke-width="0.8" stroke-dasharray="1.5 2"/>
<line x1="166" y1="703.5" x2="166" y2="894.5" stroke="#dcdcdc" stroke-width="0.8" stroke-dasharray="1.5 2"/>
<line x1="251.5" y1="703.5" x2="251.5" y2="894.5" stroke="#dcdcdc" stroke-width="0.8" stroke-dasharray="1.5 2"/>
<line x1="337" y1="703.5" x2="337" y2="894.5" stroke="#dcdcdc" stroke-width="0.8" stroke-dasharray="1.5 2"/>
<line x1="422.5" y1="703.5" x2="422.5" y2="894.5" stroke="#dcdcdc" stroke-width="0.8" stroke-dasharray="1.5 2"/>
<rect x="81.5" y="704.5" width="289" height="77" fill="#fff"/>
<rect x="396" y="721" width="54" height="21" fill="#fff"/>
<clipPath id="cc"><rect x="80.5" y="703.5" width="383.0" height="191.0"/></clipPath>
<g clip-path="url(#cc)">
<rect x="75.2" y="844.8" width="5.6" height="5.6" fill="#e0e619"/><rect x="79.49" y="844.36" width="5.6" height="5.6" fill="#e0e619"/><rect x="83.78" y="843.98" width="5.6" height="5.6" fill="#e0e619"/><rect x="88.06" y="843.45" width="5.6" height="5.6" fill="#e0e619"/><rect x="92.23" y="842.39" width="5.6" height="5.6" fill="#e0e619"/><rect x="96.13" y="840.56" width="5.6" height="5.6" fill="#e0e619"/><rect x="99.82" y="838.34" width="5.6" height="5.6" fill="#e0e619"/><rect x="103.42" y="835.97" width="5.6" height="5.6" fill="#e0e619"/><rect x="107.01" y="833.58" width="5.6" height="5.6" fill="#e0e619"/><rect x="110.48" y="831.02" width="5.6" height="5.6" fill="#e0e619"/><rect x="113.93" y="828.44" width="5.6" height="5.6" fill="#e0e619"/><rect x="117.5" y="826.02" width="5.6" height="5.6" fill="#e0e619"/><rect x="121.31" y="824.01" width="5.6" height="5.6" fill="#e0e619"/><rect x="125.23" y="822.21" width="5.6" height="5.6" fill="#e0e619"/><rect x="129.02" y="820.17" width="5.6" height="5.6" fill="#e0e619"/><rect x="132.71" y="817.95" width="5.6" height="5.6" fill="#e0e619"/><rect x="136.39" y="815.69" width="5.6" height="5.6" fill="#e0e619"/><rect x="140.05" y="813.42" width="5.6" height="5.6" fill="#e0e619"/><rect x="143.7" y="811.12" width="5.6" height="5.6" fill="#e0e619"/><rect x="147.49" y="809.07" width="5.6" height="5.6" fill="#e0e619"/><rect x="151.52" y="807.57" width="5.6" height="5.6" fill="#e0e619"/><rect x="155.64" y="806.28" width="5.6" height="5.6" fill="#e0e619"/><rect x="159.62" y="804.64" width="5.6" height="5.6" fill="#e0e619"/><rect x="163.5" y="802.76" width="5.6" height="5.6" fill="#e0e619"/><rect x="167.48" y="801.1" width="5.6" height="5.6" fill="#e0e619"/><rect x="171.55" y="799.69" width="5.6" height="5.6" fill="#e0e619"/><rect x="175.69" y="798.48" width="5.6" height="5.6" fill="#e0e619"/><rect x="179.9" y="797.58" width="5.6" height="5.6" fill="#e0e619"/><rect x="184.18" y="797.09" width="5.6" height="5.6" fill="#e0e619"/><rect x="188.49" y="796.85" width="5.6" height="5.6" fill="#e0e619"/><rect x="192.8" y="796.68" width="5.6" height="5.6" fill="#e0e619"/><rect x="197.11" y="796.58" width="5.6" height="5.6" fill="#e0e619"/><rect x="201.42" y="796.55" width="5.6" height="5.6" fill="#e0e619"/><rect x="205.73" y="796.52" width="5.6" height="5.6" fill="#e0e619"/><rect x="210.04" y="796.5" width="5.6" height="5.6" fill="#e0e619"/><rect x="214.35" y="796.57" width="5.6" height="5.6" fill="#e0e619"/><rect x="218.66" y="796.51" width="5.6" height="5.6" fill="#e0e619"/><rect x="222.95" y="796.09" width="5.6" height="5.6" fill="#e0e619"/><rect x="227.16" y="795.21" width="5.6" height="5.6" fill="#e0e619"/><rect x="231.32" y="794.07" width="5.6" height="5.6" fill="#e0e619"/><rect x="235.46" y="792.87" width="5.6" height="5.6" fill="#e0e619"/><rect x="239.61" y="791.71" width="5.6" height="5.6" fill="#e0e619"/><rect x="243.72" y="790.4" width="5.6" height="5.6" fill="#e0e619"/><rect x="247.86" y="789.19" width="5.6" height="5.6" fill="#e0e619"/><rect x="252.09" y="788.41" width="5.6" height="5.6" fill="#e0e619"/><rect x="256.4" y="788.28" width="5.6" height="5.6" fill="#e0e619"/><rect x="260.7" y="788.61" width="5.6" height="5.6" fill="#e0e619"/><rect x="264.97" y="789.18" width="5.6" height="5.6" fill="#e0e619"/><rect x="269.23" y="789.81" width="5.6" height="5.6" fill="#e0e619"/><rect x="273.48" y="790.55" width="5.6" height="5.6" fill="#e0e619"/><rect x="277.69" y="791.45" width="5.6" height="5.6" fill="#e0e619"/><rect x="281.85" y="792.59" width="5.6" height="5.6" fill="#e0e619"/><rect x="285.84" y="794.2" width="5.6" height="5.6" fill="#e0e619"/><rect x="289.62" y="796.29" width="5.6" height="5.6" fill="#e0e619"/><rect x="293.43" y="798.3" width="5.6" height="5.6" fill="#e0e619"/><rect x="297.35" y="800.1" width="5.6" height="5.6" fill="#e0e619"/><rect x="301.19" y="802.04" width="5.6" height="5.6" fill="#e0e619"/><rect x="304.09" y="805.11" width="5.6" height="5.6" fill="#e0e619"/><rect x="306.57" y="808.56" width="5.6" height="5.6" fill="#e0e619"/><rect x="310.31" y="810.66" width="5.6" height="5.6" fill="#e0e619"/><rect x="314.44" y="811.9" width="5.6" height="5.6" fill="#e0e619"/><rect x="318.57" y="813.11" width="5.6" height="5.6" fill="#e0e619"/><rect x="322.71" y="814.31" width="5.6" height="5.6" fill="#e0e619"/><rect x="326.85" y="815.51" width="5.6" height="5.6" fill="#e0e619"/><rect x="330.99" y="816.72" width="5.6" height="5.6" fill="#e0e619"/><rect x="335.12" y="817.96" width="5.6" height="5.6" fill="#e0e619"/><rect x="339.24" y="819.24" width="5.6" height="5.6" fill="#e0e619"/><rect x="343.34" y="820.55" width="5.6" height="5.6" fill="#e0e619"/><rect x="347.44" y="821.88" width="5.6" height="5.6" fill="#e0e619"/><rect x="351.54" y="823.22" width="5.6" height="5.6" fill="#e0e619"/><rect x="355.64" y="824.56" width="5.6" height="5.6" fill="#e0e619"/><rect x="359.74" y="825.9" width="5.6" height="5.6" fill="#e0e619"/><rect x="363.84" y="827.22" width="5.6" height="5.6" fill="#e0e619"/><rect x="367.96" y="828.5" width="5.6" height="5.6" fill="#e0e619"/><rect x="372.08" y="829.76" width="5.6" height="5.6" fill="#e0e619"/><rect x="376.17" y="831.13" width="5.6" height="5.6" fill="#e0e619"/><rect x="380.23" y="832.57" width="5.6" height="5.6" fill="#e0e619"/><rect x="384.3" y="833.99" width="5.6" height="5.6" fill="#e0e619"/><rect x="388.29" y="835.63" width="5.6" height="5.6" fill="#e0e619"/><rect x="392.1" y="837.64" width="5.6" height="5.6" fill="#e0e619"/><rect x="395.71" y="839.99" width="5.6" height="5.6" fill="#e0e619"/><rect x="399.18" y="842.55" width="5.6" height="5.6" fill="#e0e619"/><rect x="402.49" y="845.3" width="5.6" height="5.6" fill="#e0e619"/><rect x="405.65" y="848.24" width="5.6" height="5.6" fill="#e0e619"/><rect x="408.66" y="851.33" width="5.6" height="5.6" fill="#e0e619"/><rect x="411.56" y="854.51" width="5.6" height="5.6" fill="#e0e619"/><rect x="414.37" y="857.78" width="5.6" height="5.6" fill="#e0e619"/><rect x="417.05" y="861.15" width="5.6" height="5.6" fill="#e0e619"/><rect x="419.6" y="864.64" width="5.6" height="5.6" fill="#e0e619"/><rect x="421.93" y="868.26" width="5.6" height="5.6" fill="#e0e619"/><rect x="423.94" y="872.07" width="5.6" height="5.6" fill="#e0e619"/><rect x="425.62" y="876.04" width="5.6" height="5.6" fill="#e0e619"/><rect x="427.09" y="880.09" width="5.6" height="5.6" fill="#e0e619"/><rect x="428.45" y="884.18" width="5.6" height="5.6" fill="#e0e619"/><rect x="429.84" y="888.26" width="5.6" height="5.6" fill="#e0e619"/><rect x="431.45" y="892.26" width="5.6" height="5.6" fill="#e0e619"/><rect x="433.2" y="896.2" width="5.6" height="5.6" fill="#e0e619"/>
<circle cx="78" cy="839" r="3.3" fill="#f88a0c"/><circle cx="81.99" cy="837.33" r="3.3" fill="#f88a0c"/><circle cx="85.98" cy="835.66" r="3.3" fill="#f88a0c"/><circle cx="89.94" cy="833.93" r="3.3" fill="#f88a0c"/><circle cx="93.85" cy="832.09" r="3.3" fill="#f88a0c"/><circle cx="97.63" cy="829.99" r="3.3" fill="#f88a0c"/><circle cx="101.25" cy="827.64" r="3.3" fill="#f88a0c"/><circle cx="104.8" cy="825.16" r="3.3" fill="#f88a0c"/><circle cx="108.39" cy="822.75" r="3.3" fill="#f88a0c"/><circle cx="112.03" cy="820.43" r="3.3" fill="#f88a0c"/><circle cx="115.69" cy="818.12" r="3.3" fill="#f88a0c"/><circle cx="119.38" cy="815.87" r="3.3" fill="#f88a0c"/><circle cx="123.11" cy="813.68" r="3.3" fill="#f88a0c"/><circle cx="126.88" cy="811.57" r="3.3" fill="#f88a0c"/><circle cx="130.75" cy="809.64" r="3.3" fill="#f88a0c"/><circle cx="134.71" cy="807.9" r="3.3" fill="#f88a0c"/><circle cx="138.76" cy="806.39" r="3.3" fill="#f88a0c"/><circle cx="142.93" cy="805.26" r="3.3" fill="#f88a0c"/><circle cx="147.18" cy="804.48" r="3.3" fill="#f88a0c"/><circle cx="151.43" cy="803.69" r="3.3" fill="#f88a0c"/><circle cx="155.65" cy="802.77" r="3.3" fill="#f88a0c"/><circle cx="159.96" cy="802.89" r="3.3" fill="#f88a0c"/><circle cx="164.21" cy="803.69" r="3.3" fill="#f88a0c"/><circle cx="168.43" cy="804.65" r="3.3" fill="#f88a0c"/><circle cx="172.65" cy="805.59" r="3.3" fill="#f88a0c"/><circle cx="176.86" cy="806.57" r="3.3" fill="#f88a0c"/><circle cx="181.07" cy="807.57" r="3.3" fill="#f88a0c"/><circle cx="185.27" cy="808.56" r="3.3" fill="#f88a0c"/><circle cx="189.48" cy="809.56" r="3.3" fill="#f88a0c"/><circle cx="193.69" cy="810.56" r="3.3" fill="#f88a0c"/><circle cx="197.9" cy="811.54" r="3.3" fill="#f88a0c"/><circle cx="202.12" cy="812.46" r="3.3" fill="#f88a0c"/><circle cx="206.35" cy="813.36" r="3.3" fill="#f88a0c"/><circle cx="210.59" cy="814.21" r="3.3" fill="#f88a0c"/><circle cx="214.85" cy="814.97" r="3.3" fill="#f88a0c"/><circle cx="219.12" cy="815.63" r="3.3" fill="#f88a0c"/><circle cx="223.4" cy="816.21" r="3.3" fill="#f88a0c"/><circle cx="227.7" cy="816.73" r="3.3" fill="#f88a0c"/><circle cx="231.99" cy="817.23" r="3.3" fill="#f88a0c"/><circle cx="236.29" cy="817.7" r="3.3" fill="#f88a0c"/><circle cx="240.59" cy="818.13" r="3.3" fill="#f88a0c"/><circle cx="244.9" cy="818.49" r="3.3" fill="#f88a0c"/><circle cx="249.21" cy="818.75" r="3.3" fill="#f88a0c"/><circle cx="253.54" cy="818.9" r="3.3" fill="#f88a0c"/><circle cx="257.86" cy="819" r="3.3" fill="#f88a0c"/><circle cx="262.18" cy="819.02" r="3.3" fill="#f88a0c"/><circle cx="266.5" cy="818.98" r="3.3" fill="#f88a0c"/><circle cx="270.83" cy="819.02" r="3.3" fill="#f88a0c"/><circle cx="275.15" cy="819.16" r="3.3" fill="#f88a0c"/><circle cx="279.46" cy="819.46" r="3.3" fill="#f88a0c"/><circle cx="283.77" cy="819.78" r="3.3" fill="#f88a0c"/><circle cx="288.09" cy="820.09" r="3.3" fill="#f88a0c"/><circle cx="292.39" cy="820.46" r="3.3" fill="#f88a0c"/><circle cx="296.69" cy="820.97" r="3.3" fill="#f88a0c"/><circle cx="300.95" cy="821.69" r="3.3" fill="#f88a0c"/><circle cx="305.16" cy="822.67" r="3.3" fill="#f88a0c"/><circle cx="309.32" cy="823.83" r="3.3" fill="#f88a0c"/><circle cx="313.46" cy="825.08" r="3.3" fill="#f88a0c"/><circle cx="317.61" cy="826.32" r="3.3" fill="#f88a0c"/><circle cx="321.77" cy="827.49" r="3.3" fill="#f88a0c"/><circle cx="325.92" cy="828.68" r="3.3" fill="#f88a0c"/><circle cx="330.08" cy="829.88" r="3.3" fill="#f88a0c"/><circle cx="334.24" cy="831.05" r="3.3" fill="#f88a0c"/><circle cx="338.43" cy="832.14" r="3.3" fill="#f88a0c"/><circle cx="342.65" cy="833.04" r="3.3" fill="#f88a0c"/><circle cx="346.93" cy="833.65" r="3.3" fill="#f88a0c"/><circle cx="351.25" cy="833.96" r="3.3" fill="#f88a0c"/><circle cx="355.57" cy="833.98" r="3.3" fill="#f88a0c"/><circle cx="359.88" cy="833.75" r="3.3" fill="#f88a0c"/><circle cx="364.2" cy="833.89" r="3.3" fill="#f88a0c"/><circle cx="368.45" cy="834.67" r="3.3" fill="#f88a0c"/><circle cx="372.63" cy="835.79" r="3.3" fill="#f88a0c"/><circle cx="376.74" cy="837.12" r="3.3" fill="#f88a0c"/><circle cx="380.8" cy="838.6" r="3.3" fill="#f88a0c"/><circle cx="384.84" cy="840.14" r="3.3" fill="#f88a0c"/><circle cx="388.81" cy="841.86" r="3.3" fill="#f88a0c"/><circle cx="392.63" cy="843.87" r="3.3" fill="#f88a0c"/><circle cx="396.31" cy="846.14" r="3.3" fill="#f88a0c"/><circle cx="399.91" cy="848.55" r="3.3" fill="#f88a0c"/><circle cx="403.43" cy="851.05" r="3.3" fill="#f88a0c"/><circle cx="406.89" cy="853.64" r="3.3" fill="#f88a0c"/><circle cx="410.27" cy="856.34" r="3.3" fill="#f88a0c"/><circle cx="413.55" cy="859.16" r="3.3" fill="#f88a0c"/><circle cx="416.68" cy="862.14" r="3.3" fill="#f88a0c"/><circle cx="419.67" cy="865.26" r="3.3" fill="#f88a0c"/><circle cx="422.54" cy="868.49" r="3.3" fill="#f88a0c"/><circle cx="425.33" cy="871.8" r="3.3" fill="#f88a0c"/><circle cx="428.03" cy="875.17" r="3.3" fill="#f88a0c"/><circle cx="430.64" cy="878.62" r="3.3" fill="#f88a0c"/><circle cx="433.04" cy="882.21" r="3.3" fill="#f88a0c"/><circle cx="434.71" cy="886.19" r="3.3" fill="#f88a0c"/><circle cx="436.13" cy="890.27" r="3.3" fill="#f88a0c"/><circle cx="438.03" cy="894.15" r="3.3" fill="#f88a0c"/><circle cx="440" cy="898" r="3.3" fill="#f88a0c"/>
<path d="M78 834.52L82 841.48L74 841.48Z" fill="#45bf74"/><path d="M82.02 832.94L86.02 839.9L78.02 839.9Z" fill="#45bf74"/><path d="M86.05 831.38L90.05 838.34L82.05 838.34Z" fill="#45bf74"/><path d="M90.05 829.76L94.05 836.72L86.05 836.72Z" fill="#45bf74"/><path d="M94 828.02L98 834.98L90 834.98Z" fill="#45bf74"/><path d="M97.89 826.14L101.89 833.1L93.89 833.1Z" fill="#45bf74"/><path d="M101.67 824.06L105.67 831.02L97.67 831.02Z" fill="#45bf74"/><path d="M105.33 821.76L109.33 828.72L101.33 828.72Z" fill="#45bf74"/><path d="M108.91 819.34L112.91 826.3L104.91 826.3Z" fill="#45bf74"/><path d="M112.45 816.88L116.45 823.84L108.45 823.84Z" fill="#45bf74"/><path d="M116 814.41L120 821.37L112 821.37Z" fill="#45bf74"/><path d="M119.58 812L123.58 818.96L115.58 818.96Z" fill="#45bf74"/><path d="M123.22 809.68L127.22 816.64L119.22 816.64Z" fill="#45bf74"/><path d="M126.96 807.52L130.96 814.48L122.96 814.48Z" fill="#45bf74"/><path d="M130.85 805.65L134.85 812.61L126.85 812.61Z" fill="#45bf74"/><path d="M134.84 804L138.84 810.96L130.84 810.96Z" fill="#45bf74"/><path d="M138.9 802.54L142.9 809.5L134.9 809.5Z" fill="#45bf74"/><path d="M143.04 801.29L147.04 808.25L139.04 808.25Z" fill="#45bf74"/><path d="M147.24 800.29L151.24 807.25L143.24 807.25Z" fill="#45bf74"/><path d="M151.49 799.56L155.49 806.52L147.49 806.52Z" fill="#45bf74"/><path d="M155.79 799.13L159.79 806.09L151.79 806.09Z" fill="#45bf74"/><path d="M160.1 799.05L164.1 806.01L156.1 806.01Z" fill="#45bf74"/><path d="M164.4 799.47L168.4 806.43L160.4 806.43Z" fill="#45bf74"/><path d="M168.64 800.26L172.64 807.22L164.64 807.22Z" fill="#45bf74"/><path d="M172.84 801.28L176.84 808.24L168.84 808.24Z" fill="#45bf74"/><path d="M177 802.43L181 809.39L173 809.39Z" fill="#45bf74"/><path d="M181.16 803.59L185.16 810.55L177.16 810.55Z" fill="#45bf74"/><path d="M185.36 804.59L189.36 811.55L181.36 811.55Z" fill="#45bf74"/><path d="M189.59 805.47L193.59 812.43L185.59 812.43Z" fill="#45bf74"/><path d="M193.82 806.36L197.82 813.32L189.82 813.32Z" fill="#45bf74"/><path d="M198.06 807.18L202.06 814.14L194.06 814.14Z" fill="#45bf74"/><path d="M202.32 807.88L206.32 814.84L198.32 814.84Z" fill="#45bf74"/><path d="M206.6 808.47L210.6 815.43L202.6 815.43Z" fill="#45bf74"/><path d="M210.88 809L214.88 815.96L206.88 815.96Z" fill="#45bf74"/><path d="M215.17 809.54L219.17 816.5L211.17 816.5Z" fill="#45bf74"/><path d="M219.44 810.16L223.44 817.12L215.44 817.12Z" fill="#45bf74"/><path d="M223.71 810.78L227.71 817.74L219.71 817.74Z" fill="#45bf74"/><path d="M228 811.31L232 818.27L224 818.27Z" fill="#45bf74"/><path d="M232.3 811.74L236.3 818.7L228.3 818.7Z" fill="#45bf74"/><path d="M236.6 812.14L240.6 819.1L232.6 819.1Z" fill="#45bf74"/><path d="M240.9 812.52L244.9 819.48L236.9 819.48Z" fill="#45bf74"/><path d="M245.2 812.88L249.2 819.84L241.2 819.84Z" fill="#45bf74"/><path d="M249.51 813.21L253.51 820.17L245.51 820.17Z" fill="#45bf74"/><path d="M253.82 813.47L257.82 820.43L249.82 820.43Z" fill="#45bf74"/><path d="M258.13 813.53L262.13 820.49L254.13 820.49Z" fill="#45bf74"/><path d="M261.91 811.72L265.91 818.68L257.91 818.68Z" fill="#45bf74"/><path d="M264.55 809.55L268.55 816.51L260.55 816.51Z" fill="#45bf74"/><path d="M267.26 812.59L271.26 819.55L263.26 819.55Z" fill="#45bf74"/><path d="M271.53 813.16L275.53 820.12L267.53 820.12Z" fill="#45bf74"/><path d="M275.84 813.44L279.84 820.4L271.84 820.4Z" fill="#45bf74"/><path d="M280.14 813.84L284.14 820.8L276.14 820.8Z" fill="#45bf74"/><path d="M284.44 814.31L288.44 821.27L280.44 821.27Z" fill="#45bf74"/><path d="M288.73 814.78L292.73 821.74L284.73 821.74Z" fill="#45bf74"/><path d="M293.01 815.32L297.01 822.28L289.01 822.28Z" fill="#45bf74"/><path d="M297.28 815.99L301.28 822.95L293.28 822.95Z" fill="#45bf74"/><path d="M301.51 816.87L305.51 823.83L297.51 823.83Z" fill="#45bf74"/><path d="M305.67 818L309.67 824.96L301.67 824.96Z" fill="#45bf74"/><path d="M309.79 819.29L313.79 826.25L305.79 826.25Z" fill="#45bf74"/><path d="M313.9 820.63L317.9 827.59L309.9 827.59Z" fill="#45bf74"/><path d="M318.02 821.94L322.02 828.9L314.02 828.9Z" fill="#45bf74"/><path d="M322.17 823.13L326.17 830.09L318.17 830.09Z" fill="#45bf74"/><path d="M326.32 824.3L330.32 831.26L322.32 831.26Z" fill="#45bf74"/><path d="M330.49 825.44L334.49 832.4L326.49 832.4Z" fill="#45bf74"/><path d="M334.67 826.52L338.67 833.48L330.67 833.48Z" fill="#45bf74"/><path d="M338.86 827.55L342.86 834.51L334.86 834.51Z" fill="#45bf74"/><path d="M343.08 828.51L347.08 835.47L339.08 835.47Z" fill="#45bf74"/><path d="M347.3 829.39L351.3 836.35L343.3 836.35Z" fill="#45bf74"/><path d="M351.54 830.23L355.54 837.19L347.54 837.19Z" fill="#45bf74"/><path d="M355.77 831.07L359.77 838.03L351.77 838.03Z" fill="#45bf74"/><path d="M360.01 831.92L364.01 838.88L356.01 838.88Z" fill="#45bf74"/><path d="M364.23 832.84L368.23 839.8L360.23 839.8Z" fill="#45bf74"/><path d="M368.43 833.85L372.43 840.81L364.43 840.81Z" fill="#45bf74"/><path d="M372.61 834.93L376.61 841.89L368.61 841.89Z" fill="#45bf74"/><path d="M376.74 836.18L380.74 843.14L372.74 843.14Z" fill="#45bf74"/><path d="M380.81 837.62L384.81 844.58L376.81 844.58Z" fill="#45bf74"/><path d="M384.86 839.12L388.86 846.08L380.86 846.08Z" fill="#45bf74"/><path d="M388.87 840.72L392.87 847.68L384.87 847.68Z" fill="#45bf74"/><path d="M392.76 842.59L396.76 849.55L388.76 849.55Z" fill="#45bf74"/><path d="M396.22 845.15L400.22 852.11L392.22 852.11Z" fill="#45bf74"/><path d="M398.34 848.88L402.34 855.84L394.34 855.84Z" fill="#45bf74"/><path d="M400.18 852.77L404.18 859.73L396.18 859.73Z" fill="#45bf74"/><path d="M402.98 856.05L406.98 863.01L398.98 863.01Z" fill="#45bf74"/><path d="M406.12 859.02L410.12 865.98L402.12 865.98Z" fill="#45bf74"/><path d="M409.54 861.65L413.54 868.61L405.54 868.61Z" fill="#45bf74"/><path d="M412.97 864.27L416.97 871.23L408.97 871.23Z" fill="#45bf74"/><path d="M416.15 867.18L420.15 874.14L412.15 874.14Z" fill="#45bf74"/><path d="M419.05 870.38L423.05 877.34L415.05 877.34Z" fill="#45bf74"/><path d="M422 873.54L426 880.5L418 880.5Z" fill="#45bf74"/><path d="M425.06 876.59L429.06 883.55L421.06 883.55Z" fill="#45bf74"/><path d="M427.8 879.92L431.8 886.88L423.8 886.88Z" fill="#45bf74"/><path d="M430.34 883.42L434.34 890.38L426.34 890.38Z" fill="#45bf74"/><path d="M432.7 887.03L436.7 893.99L428.7 893.99Z" fill="#45bf74"/><path d="M434.89 890.75L438.89 897.71L430.89 897.71Z" fill="#45bf74"/><path d="M437 894.52L441 901.48L433 901.48Z" fill="#45bf74"/>
<path d="M78 834.5L82 838.5L78 842.5L74 838.5Z" fill="#0b7ff2"/><path d="M82.14 833.44L86.14 837.44L82.14 841.44L78.14 837.44Z" fill="#0b7ff2"/><path d="M86.05 831.64L90.05 835.64L86.05 839.64L82.05 835.64Z" fill="#0b7ff2"/><path d="M89.92 829.74L93.92 833.74L89.92 837.74L85.92 833.74Z" fill="#0b7ff2"/><path d="M93.72 827.72L97.72 831.72L93.72 835.72L89.72 831.72Z" fill="#0b7ff2"/><path d="M97.42 825.52L101.42 829.52L97.42 833.52L93.42 829.52Z" fill="#0b7ff2"/><path d="M101.01 823.13L105.01 827.13L101.01 831.13L97.01 827.13Z" fill="#0b7ff2"/><path d="M104.56 820.69L108.56 824.69L104.56 828.69L100.56 824.69Z" fill="#0b7ff2"/><path d="M108.15 818.31L112.15 822.31L108.15 826.31L104.15 822.31Z" fill="#0b7ff2"/><path d="M111.79 816.01L115.79 820.01L111.79 824.01L107.79 820.01Z" fill="#0b7ff2"/><path d="M115.45 813.74L119.45 817.74L115.45 821.74L111.45 817.74Z" fill="#0b7ff2"/><path d="M119.14 811.51L123.14 815.51L119.14 819.51L115.14 815.51Z" fill="#0b7ff2"/><path d="M122.83 809.3L126.83 813.3L122.83 817.3L118.83 813.3Z" fill="#0b7ff2"/><path d="M126.54 807.11L130.54 811.11L126.54 815.11L122.54 811.11Z" fill="#0b7ff2"/><path d="M130.37 805.13L134.37 809.13L130.37 813.13L126.37 809.13Z" fill="#0b7ff2"/><path d="M134.32 803.43L138.32 807.43L134.32 811.43L130.32 807.43Z" fill="#0b7ff2"/><path d="M138.38 801.99L142.38 805.99L138.38 809.99L134.38 805.99Z" fill="#0b7ff2"/><path d="M142.54 800.86L146.54 804.86L142.54 808.86L138.54 804.86Z" fill="#0b7ff2"/><path d="M146.77 800.06L150.77 804.06L146.77 808.06L142.77 804.06Z" fill="#0b7ff2"/><path d="M151.01 799.29L155.01 803.29L151.01 807.29L147.01 803.29Z" fill="#0b7ff2"/><path d="M155.2 798.33L159.2 802.33L155.2 806.33L151.2 802.33Z" fill="#0b7ff2"/><path d="M159.5 798.33L163.5 802.33L159.5 806.33L155.5 802.33Z" fill="#0b7ff2"/><path d="M163.74 799.09L167.74 803.09L163.74 807.09L159.74 803.09Z" fill="#0b7ff2"/><path d="M167.94 800.04L171.94 804.04L167.94 808.04L163.94 804.04Z" fill="#0b7ff2"/><path d="M172.14 800.97L176.14 804.97L172.14 808.97L168.14 804.97Z" fill="#0b7ff2"/><path d="M176.34 801.94L180.34 805.94L176.34 809.94L172.34 805.94Z" fill="#0b7ff2"/><path d="M180.53 802.94L184.53 806.94L180.53 810.94L176.53 806.94Z" fill="#0b7ff2"/><path d="M184.72 803.93L188.72 807.93L184.72 811.93L180.72 807.93Z" fill="#0b7ff2"/><path d="M188.91 804.93L192.91 808.93L188.91 812.93L184.91 808.93Z" fill="#0b7ff2"/><path d="M193.1 805.92L197.1 809.92L193.1 813.92L189.1 809.92Z" fill="#0b7ff2"/><path d="M197.3 806.9L201.3 810.9L197.3 814.9L193.3 810.9Z" fill="#0b7ff2"/><path d="M201.51 807.82L205.51 811.82L201.51 815.82L197.51 811.82Z" fill="#0b7ff2"/><path d="M205.72 808.7L209.72 812.7L205.72 816.7L201.72 812.7Z" fill="#0b7ff2"/><path d="M209.95 809.55L213.95 813.55L209.95 817.55L205.95 813.55Z" fill="#0b7ff2"/><path d="M214.18 810.35L218.18 814.35L214.18 818.35L210.18 814.35Z" fill="#0b7ff2"/><path d="M218.42 811.12L222.42 815.12L218.42 819.12L214.42 815.12Z" fill="#0b7ff2"/><path d="M222.66 811.87L226.66 815.87L222.66 819.87L218.66 815.87Z" fill="#0b7ff2"/><path d="M226.91 812.56L230.91 816.56L226.91 820.56L222.91 816.56Z" fill="#0b7ff2"/><path d="M231.18 813.15L235.18 817.15L231.18 821.15L227.18 817.15Z" fill="#0b7ff2"/><path d="M235.46 813.64L239.46 817.64L235.46 821.64L231.46 817.64Z" fill="#0b7ff2"/><path d="M239.74 814.06L243.74 818.06L239.74 822.06L235.74 818.06Z" fill="#0b7ff2"/><path d="M244.04 814.42L248.04 818.42L244.04 822.42L240.04 818.42Z" fill="#0b7ff2"/><path d="M248.33 814.76L252.33 818.76L248.33 822.76L244.33 818.76Z" fill="#0b7ff2"/><path d="M252.63 815.04L256.63 819.04L252.63 823.04L248.63 819.04Z" fill="#0b7ff2"/><path d="M256.93 815.21L260.93 819.21L256.93 823.21L252.93 819.21Z" fill="#0b7ff2"/><path d="M261.13 814.51L265.13 818.51L261.13 822.51L257.13 818.51Z" fill="#0b7ff2"/><path d="M264.64 812.85L268.64 816.85L264.64 820.85L260.64 816.85Z" fill="#0b7ff2"/><path d="M268.4 814.72L272.4 818.72L268.4 822.72L264.4 818.72Z" fill="#0b7ff2"/><path d="M272.66 815.36L276.66 819.36L272.66 823.36L268.66 819.36Z" fill="#0b7ff2"/><path d="M276.94 815.85L280.94 819.85L276.94 823.85L272.94 819.85Z" fill="#0b7ff2"/><path d="M281.22 816.33L285.22 820.33L281.22 824.33L277.22 820.33Z" fill="#0b7ff2"/><path d="M285.51 816.7L289.51 820.7L285.51 824.7L281.51 820.7Z" fill="#0b7ff2"/><path d="M289.8 817.06L293.8 821.06L289.8 825.06L285.8 821.06Z" fill="#0b7ff2"/><path d="M294.08 817.52L298.08 821.52L294.08 825.52L290.08 821.52Z" fill="#0b7ff2"/><path d="M298.34 818.17L302.34 822.17L298.34 826.17L294.34 822.17Z" fill="#0b7ff2"/><path d="M302.54 819.12L306.54 823.12L302.54 827.12L298.54 823.12Z" fill="#0b7ff2"/><path d="M306.68 820.33L310.68 824.33L306.68 828.33L302.68 824.33Z" fill="#0b7ff2"/><path d="M310.76 821.71L314.76 825.71L310.76 829.71L306.76 825.71Z" fill="#0b7ff2"/><path d="M314.82 823.14L318.82 827.14L314.82 831.14L310.82 827.14Z" fill="#0b7ff2"/><path d="M318.89 824.54L322.89 828.54L318.89 832.54L314.89 828.54Z" fill="#0b7ff2"/><path d="M322.99 825.88L326.99 829.88L322.99 833.88L318.99 829.88Z" fill="#0b7ff2"/><path d="M327.07 827.27L331.07 831.27L327.07 835.27L323.07 831.27Z" fill="#0b7ff2"/><path d="M331.15 828.64L335.15 832.64L331.15 836.64L327.15 832.64Z" fill="#0b7ff2"/><path d="M335.25 829.95L339.25 833.95L335.25 837.95L331.25 833.95Z" fill="#0b7ff2"/><path d="M339.39 831.14L343.39 835.14L339.39 839.14L335.39 835.14Z" fill="#0b7ff2"/><path d="M343.57 832.18L347.57 836.18L343.57 840.18L339.57 836.18Z" fill="#0b7ff2"/><path d="M347.78 833.11L351.78 837.11L347.78 841.11L343.78 837.11Z" fill="#0b7ff2"/><path d="M351.99 833.99L355.99 837.99L351.99 841.99L347.99 837.99Z" fill="#0b7ff2"/><path d="M356.21 834.85L360.21 838.85L356.21 842.85L352.21 838.85Z" fill="#0b7ff2"/><path d="M360.43 835.74L364.43 839.74L360.43 843.74L356.43 839.74Z" fill="#0b7ff2"/><path d="M364.63 836.71L368.63 840.71L364.63 844.71L360.63 840.71Z" fill="#0b7ff2"/><path d="M368.79 837.8L372.79 841.8L368.79 845.8L364.79 841.8Z" fill="#0b7ff2"/><path d="M372.92 839.02L376.92 843.02L372.92 847.02L368.92 843.02Z" fill="#0b7ff2"/><path d="M377 840.4L381 844.4L377 848.4L373 844.4Z" fill="#0b7ff2"/><path d="M381.05 841.89L385.05 845.89L381.05 849.89L377.05 845.89Z" fill="#0b7ff2"/><path d="M385.06 843.46L389.06 847.46L385.06 851.46L381.06 847.46Z" fill="#0b7ff2"/><path d="M389.03 845.13L393.03 849.13L389.03 853.13L385.03 849.13Z" fill="#0b7ff2"/><path d="M392.94 846.94L396.94 850.94L392.94 854.94L388.94 850.94Z" fill="#0b7ff2"/><path d="M396.72 848.99L400.72 852.99L396.72 856.99L392.72 852.99Z" fill="#0b7ff2"/><path d="M400.28 851.42L404.28 855.42L400.28 859.42L396.28 855.42Z" fill="#0b7ff2"/><path d="M403.7 854.04L407.7 858.04L403.7 862.04L399.7 858.04Z" fill="#0b7ff2"/><path d="M407.22 856.52L411.22 860.52L407.22 864.52L403.22 860.52Z" fill="#0b7ff2"/><path d="M410.78 858.94L414.78 862.94L410.78 866.94L406.78 862.94Z" fill="#0b7ff2"/><path d="M414.14 861.63L418.14 865.63L414.14 869.63L410.14 865.63Z" fill="#0b7ff2"/><path d="M417.29 864.57L421.29 868.57L417.29 872.57L413.29 868.57Z" fill="#0b7ff2"/><path d="M420.36 867.6L424.36 871.6L420.36 875.6L416.36 871.6Z" fill="#0b7ff2"/><path d="M423.36 870.68L427.36 874.68L423.36 878.68L419.36 874.68Z" fill="#0b7ff2"/><path d="M426.31 873.82L430.31 877.82L426.31 881.82L422.31 877.82Z" fill="#0b7ff2"/><path d="M429.18 877.03L433.18 881.03L429.18 885.03L425.18 881.03Z" fill="#0b7ff2"/><path d="M431.87 880.39L435.87 884.39L431.87 888.39L427.87 884.39Z" fill="#0b7ff2"/><path d="M434.3 883.95L438.3 887.95L434.3 891.95L430.3 887.95Z" fill="#0b7ff2"/><path d="M436.55 887.63L440.55 891.63L436.55 895.63L432.55 891.63Z" fill="#0b7ff2"/><path d="M438.82 891.29L442.82 895.29L438.82 899.29L434.82 895.29Z" fill="#0b7ff2"/><path d="M441 895L445 899L441 903L437 899Z" fill="#0b7ff2"/>
<rect x="201.75" y="789.45" width="6.5" height="6.5" fill="#e0e619"/>
<rect x="184.75" y="793.75" width="6.5" height="6.5" fill="#e0e619"/>
<rect x="308.75" y="810.25" width="6.5" height="6.5" fill="#e0e619"/>
<rect x="299.75" y="803.25" width="6.5" height="6.5" fill="#e0e619"/>
<rect x="232.75" y="794.25" width="6.5" height="6.5" fill="#e0e619"/>
<rect x="212.75" y="793.75" width="6.5" height="6.5" fill="#e0e619"/>
</g>
<rect x="80.5" y="703.5" width="383.0" height="191.0" fill="none" stroke="#2b2b2b" stroke-width="1.4"/>
<line x1="77.7" y1="703.12" x2="80.5" y2="703.12" stroke="#2b2b2b" stroke-width="1.5"/>
<line x1="75" y1="735" x2="80.5" y2="735" stroke="#2b2b2b" stroke-width="1.5"/>
<text x="71.6" y="742" font-size="20" text-anchor="end">-0.04</text>
<line x1="77.7" y1="766.88" x2="80.5" y2="766.88" stroke="#2b2b2b" stroke-width="1.5"/>
<line x1="75" y1="798.75" x2="80.5" y2="798.75" stroke="#2b2b2b" stroke-width="1.5"/>
<text x="71.6" y="805.75" font-size="20" text-anchor="end">-0.02</text>
<line x1="77.7" y1="830.62" x2="80.5" y2="830.62" stroke="#2b2b2b" stroke-width="1.5"/>
<line x1="75" y1="862.5" x2="80.5" y2="862.5" stroke="#2b2b2b" stroke-width="1.5"/>
<text x="71.6" y="869.5" font-size="20" text-anchor="end">0.00</text>
<line x1="77.7" y1="894.38" x2="80.5" y2="894.38" stroke="#2b2b2b" stroke-width="1.5"/>
<line x1="80.5" y1="894.5" x2="80.5" y2="900" stroke="#2b2b2b" stroke-width="1.5"/>
<text x="81.5" y="922.7" font-size="20" text-anchor="middle">10<tspan font-size="11.5" dy="-8.5">-1</tspan></text>
<line x1="106.24" y1="894.5" x2="106.24" y2="897.3" stroke="#2b2b2b" stroke-width="1.5"/>
<line x1="121.29" y1="894.5" x2="121.29" y2="897.3" stroke="#2b2b2b" stroke-width="1.5"/>
<line x1="131.98" y1="894.5" x2="131.98" y2="897.3" stroke="#2b2b2b" stroke-width="1.5"/>
<line x1="140.26" y1="894.5" x2="140.26" y2="897.3" stroke="#2b2b2b" stroke-width="1.5"/>
<line x1="147.03" y1="894.5" x2="147.03" y2="897.3" stroke="#2b2b2b" stroke-width="1.5"/>
<line x1="152.76" y1="894.5" x2="152.76" y2="897.3" stroke="#2b2b2b" stroke-width="1.5"/>
<line x1="157.71" y1="894.5" x2="157.71" y2="897.3" stroke="#2b2b2b" stroke-width="1.5"/>
<line x1="162.09" y1="894.5" x2="162.09" y2="897.3" stroke="#2b2b2b" stroke-width="1.5"/>
<line x1="166" y1="894.5" x2="166" y2="900" stroke="#2b2b2b" stroke-width="1.5"/>
<text x="166.8" y="922.7" font-size="20" text-anchor="middle">10<tspan font-size="11.5" dy="-8.5">0</tspan></text>
<line x1="191.74" y1="894.5" x2="191.74" y2="897.3" stroke="#2b2b2b" stroke-width="1.5"/>
<line x1="206.79" y1="894.5" x2="206.79" y2="897.3" stroke="#2b2b2b" stroke-width="1.5"/>
<line x1="217.48" y1="894.5" x2="217.48" y2="897.3" stroke="#2b2b2b" stroke-width="1.5"/>
<line x1="225.76" y1="894.5" x2="225.76" y2="897.3" stroke="#2b2b2b" stroke-width="1.5"/>
<line x1="232.53" y1="894.5" x2="232.53" y2="897.3" stroke="#2b2b2b" stroke-width="1.5"/>
<line x1="238.26" y1="894.5" x2="238.26" y2="897.3" stroke="#2b2b2b" stroke-width="1.5"/>
<line x1="243.21" y1="894.5" x2="243.21" y2="897.3" stroke="#2b2b2b" stroke-width="1.5"/>
<line x1="247.59" y1="894.5" x2="247.59" y2="897.3" stroke="#2b2b2b" stroke-width="1.5"/>
<line x1="251.5" y1="894.5" x2="251.5" y2="900" stroke="#2b2b2b" stroke-width="1.5"/>
<text x="252.3" y="922.7" font-size="20" text-anchor="middle">10<tspan font-size="11.5" dy="-8.5">1</tspan></text>
<line x1="277.24" y1="894.5" x2="277.24" y2="897.3" stroke="#2b2b2b" stroke-width="1.5"/>
<line x1="292.29" y1="894.5" x2="292.29" y2="897.3" stroke="#2b2b2b" stroke-width="1.5"/>
<line x1="302.98" y1="894.5" x2="302.98" y2="897.3" stroke="#2b2b2b" stroke-width="1.5"/>
<line x1="311.26" y1="894.5" x2="311.26" y2="897.3" stroke="#2b2b2b" stroke-width="1.5"/>
<line x1="318.03" y1="894.5" x2="318.03" y2="897.3" stroke="#2b2b2b" stroke-width="1.5"/>
<line x1="323.76" y1="894.5" x2="323.76" y2="897.3" stroke="#2b2b2b" stroke-width="1.5"/>
<line x1="328.71" y1="894.5" x2="328.71" y2="897.3" stroke="#2b2b2b" stroke-width="1.5"/>
<line x1="333.09" y1="894.5" x2="333.09" y2="897.3" stroke="#2b2b2b" stroke-width="1.5"/>
<line x1="337" y1="894.5" x2="337" y2="900" stroke="#2b2b2b" stroke-width="1.5"/>
<text x="337.8" y="922.7" font-size="20" text-anchor="middle">10<tspan font-size="11.5" dy="-8.5">2</tspan></text>
<line x1="362.74" y1="894.5" x2="362.74" y2="897.3" stroke="#2b2b2b" stroke-width="1.5"/>
<line x1="377.79" y1="894.5" x2="377.79" y2="897.3" stroke="#2b2b2b" stroke-width="1.5"/>
<line x1="388.48" y1="894.5" x2="388.48" y2="897.3" stroke="#2b2b2b" stroke-width="1.5"/>
<line x1="396.76" y1="894.5" x2="396.76" y2="897.3" stroke="#2b2b2b" stroke-width="1.5"/>
<line x1="403.53" y1="894.5" x2="403.53" y2="897.3" stroke="#2b2b2b" stroke-width="1.5"/>
<line x1="409.26" y1="894.5" x2="409.26" y2="897.3" stroke="#2b2b2b" stroke-width="1.5"/>
<line x1="414.21" y1="894.5" x2="414.21" y2="897.3" stroke="#2b2b2b" stroke-width="1.5"/>
<line x1="418.59" y1="894.5" x2="418.59" y2="897.3" stroke="#2b2b2b" stroke-width="1.5"/>
<line x1="422.5" y1="894.5" x2="422.5" y2="900" stroke="#2b2b2b" stroke-width="1.5"/>
<text x="423.3" y="922.7" font-size="20" text-anchor="middle">10<tspan font-size="11.5" dy="-8.5">3</tspan></text>
<line x1="448.24" y1="894.5" x2="448.24" y2="897.3" stroke="#2b2b2b" stroke-width="1.5"/>
<line x1="463.29" y1="894.5" x2="463.29" y2="897.3" stroke="#2b2b2b" stroke-width="1.5"/>
<text x="25" y="697.8" font-size="24" text-anchor="start">c)</text>
<text x="224.0" y="948.6" font-size="22.3">Z' (Ω·cm<tspan font-size="13.5" dy="-10">2</tspan><tspan dy="10">)</tspan></text>
<text x="0" y="0" font-size="22.5" text-anchor="middle" transform="translate(23.0 802.5) rotate(-90)">Z&quot; (Ω·cm<tspan font-size="13.5" dy="-10">2</tspan><tspan dy="10">)</tspan></text>
<text x="399.2" y="738.6" font-size="22" font-weight="bold">0.9 V</text>
<rect x="127.7" y="717.2" width="4.6" height="4.6" fill="#e0e619"/>
<circle cx="130" cy="737" r="2.6" fill="#f88a0c"/>
<path d="M130 750.55L133.15 756.05L126.85 756.05Z" fill="#45bf74"/>
<path d="M130 767.95L133.25 771.2L130 774.45L126.75 771.2Z" fill="#0b7ff2"/>
<text x="149.3" y="724.6" font-size="13.85" text-anchor="start">Reference cell</text>
<text x="149.3" y="741.4" font-size="13.85" text-anchor="start">Cell with 200 nm CGO barrier layer</text>
<text x="149.3" y="758.2" font-size="13.85" text-anchor="start">Cell with 400 nm CGO barrier layer</text>
<text x="149.3" y="775.1" font-size="13.85" text-anchor="start">Cell with 800 nm CGO barrier layer</text>
</svg></body></html>
